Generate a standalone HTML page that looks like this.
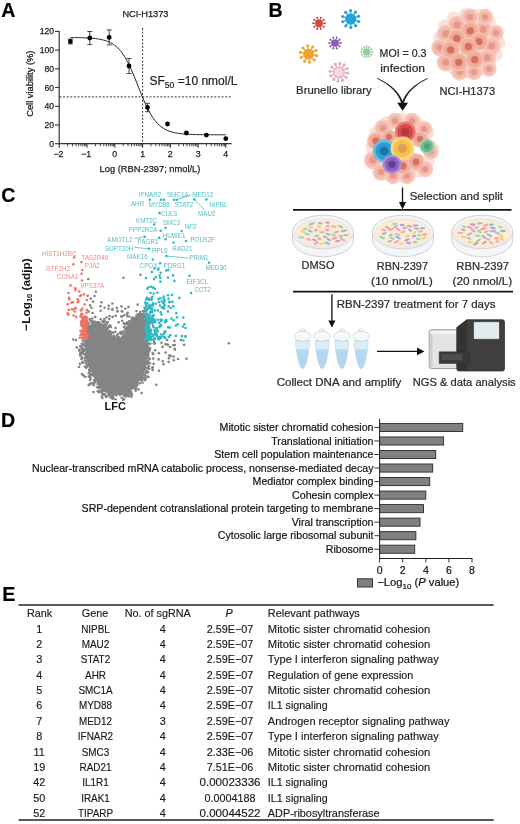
<!DOCTYPE html>
<html><head><meta charset="utf-8"><title>Figure</title>
<style>html,body{margin:0;padding:0;background:#fff;overflow:hidden;} svg{display:block;filter:blur(0.3px);} text{font-family:'Liberation Sans', Arial, sans-serif;}</style>
</head><body>
<svg width="520" height="824" viewBox="0 0 520 824">
<defs><filter id="soft" x="-10%" y="-10%" width="120%" height="120%"><feGaussianBlur stdDeviation="0.6"/></filter></defs>
<rect width="520" height="824" fill="#fff"/>
<text x="1.2" y="17.1" font-size="19.6" font-weight="bold" fill="#000" stroke="#000" stroke-width="0.2">A</text>
<text x="268.4" y="16.6" font-size="19.6" font-weight="bold" fill="#000" stroke="#000" stroke-width="0.2">B</text>
<text x="1.3" y="201.8" font-size="19.6" font-weight="bold" fill="#000" stroke="#000" stroke-width="0.2">C</text>
<text x="1.0" y="427.4" font-size="19.6" font-weight="bold" fill="#000" stroke="#000" stroke-width="0.2">D</text>
<text x="2.2" y="600.6" font-size="19.6" font-weight="bold" fill="#000" stroke="#000" stroke-width="0.2">E</text>
<g id="A" stroke-linecap="butt">
<line x1="59.2" y1="30.9" x2="59.2" y2="144.3" stroke="#333" stroke-width="1.2"/>
<line x1="58.6" y1="143.7" x2="231.5" y2="143.7" stroke="#333" stroke-width="1.2"/>
<line x1="55" y1="143.7" x2="59.2" y2="143.7" stroke="#333" stroke-width="1.1"/>
<text x="54" y="146.7" font-size="8.6" text-anchor="end" fill="#222" stroke="#222" stroke-width="0.25">0</text>
<line x1="55" y1="125.0" x2="59.2" y2="125.0" stroke="#333" stroke-width="1.1"/>
<text x="54" y="128.0" font-size="8.6" text-anchor="end" fill="#222" stroke="#222" stroke-width="0.25">20</text>
<line x1="55" y1="106.3" x2="59.2" y2="106.3" stroke="#333" stroke-width="1.1"/>
<text x="54" y="109.3" font-size="8.6" text-anchor="end" fill="#222" stroke="#222" stroke-width="0.25">40</text>
<line x1="55" y1="87.5" x2="59.2" y2="87.5" stroke="#333" stroke-width="1.1"/>
<text x="54" y="90.5" font-size="8.6" text-anchor="end" fill="#222" stroke="#222" stroke-width="0.25">60</text>
<line x1="55" y1="68.8" x2="59.2" y2="68.8" stroke="#333" stroke-width="1.1"/>
<text x="54" y="71.8" font-size="8.6" text-anchor="end" fill="#222" stroke="#222" stroke-width="0.25">80</text>
<line x1="55" y1="50.1" x2="59.2" y2="50.1" stroke="#333" stroke-width="1.1"/>
<text x="54" y="53.1" font-size="8.6" text-anchor="end" fill="#222" stroke="#222" stroke-width="0.25">100</text>
<line x1="55" y1="31.4" x2="59.2" y2="31.4" stroke="#333" stroke-width="1.1"/>
<text x="54" y="34.4" font-size="8.6" text-anchor="end" fill="#222" stroke="#222" stroke-width="0.25">120</text>
<line x1="59.3" y1="143.7" x2="59.3" y2="147.7" stroke="#333" stroke-width="1.1"/>
<text x="58.5" y="156.6" font-size="8.8" text-anchor="middle" fill="#222" stroke="#222" stroke-width="0.25">−2</text>
<line x1="67.7" y1="143.7" x2="67.7" y2="146.3" stroke="#333" stroke-width="0.9"/>
<line x1="72.5" y1="143.7" x2="72.5" y2="146.3" stroke="#333" stroke-width="0.9"/>
<line x1="76.0" y1="143.7" x2="76.0" y2="146.3" stroke="#333" stroke-width="0.9"/>
<line x1="78.7" y1="143.7" x2="78.7" y2="146.3" stroke="#333" stroke-width="0.9"/>
<line x1="80.9" y1="143.7" x2="80.9" y2="146.3" stroke="#333" stroke-width="0.9"/>
<line x1="82.8" y1="143.7" x2="82.8" y2="146.3" stroke="#333" stroke-width="0.9"/>
<line x1="84.4" y1="143.7" x2="84.4" y2="146.3" stroke="#333" stroke-width="0.9"/>
<line x1="85.8" y1="143.7" x2="85.8" y2="146.3" stroke="#333" stroke-width="0.9"/>
<line x1="87.0" y1="143.7" x2="87.0" y2="147.7" stroke="#333" stroke-width="1.1"/>
<text x="86.2" y="156.6" font-size="8.8" text-anchor="middle" fill="#222" stroke="#222" stroke-width="0.25">−1</text>
<line x1="95.4" y1="143.7" x2="95.4" y2="146.3" stroke="#333" stroke-width="0.9"/>
<line x1="100.3" y1="143.7" x2="100.3" y2="146.3" stroke="#333" stroke-width="0.9"/>
<line x1="103.8" y1="143.7" x2="103.8" y2="146.3" stroke="#333" stroke-width="0.9"/>
<line x1="106.4" y1="143.7" x2="106.4" y2="146.3" stroke="#333" stroke-width="0.9"/>
<line x1="108.6" y1="143.7" x2="108.6" y2="146.3" stroke="#333" stroke-width="0.9"/>
<line x1="110.5" y1="143.7" x2="110.5" y2="146.3" stroke="#333" stroke-width="0.9"/>
<line x1="112.1" y1="143.7" x2="112.1" y2="146.3" stroke="#333" stroke-width="0.9"/>
<line x1="113.5" y1="143.7" x2="113.5" y2="146.3" stroke="#333" stroke-width="0.9"/>
<line x1="114.8" y1="143.7" x2="114.8" y2="147.7" stroke="#333" stroke-width="1.1"/>
<text x="114.8" y="156.6" font-size="8.8" text-anchor="middle" fill="#222" stroke="#222" stroke-width="0.25">0</text>
<line x1="123.2" y1="143.7" x2="123.2" y2="146.3" stroke="#333" stroke-width="0.9"/>
<line x1="128.0" y1="143.7" x2="128.0" y2="146.3" stroke="#333" stroke-width="0.9"/>
<line x1="131.5" y1="143.7" x2="131.5" y2="146.3" stroke="#333" stroke-width="0.9"/>
<line x1="134.2" y1="143.7" x2="134.2" y2="146.3" stroke="#333" stroke-width="0.9"/>
<line x1="136.4" y1="143.7" x2="136.4" y2="146.3" stroke="#333" stroke-width="0.9"/>
<line x1="138.3" y1="143.7" x2="138.3" y2="146.3" stroke="#333" stroke-width="0.9"/>
<line x1="139.9" y1="143.7" x2="139.9" y2="146.3" stroke="#333" stroke-width="0.9"/>
<line x1="141.3" y1="143.7" x2="141.3" y2="146.3" stroke="#333" stroke-width="0.9"/>
<line x1="142.6" y1="143.7" x2="142.6" y2="147.7" stroke="#333" stroke-width="1.1"/>
<text x="142.6" y="156.6" font-size="8.8" text-anchor="middle" fill="#222" stroke="#222" stroke-width="0.25">1</text>
<line x1="150.9" y1="143.7" x2="150.9" y2="146.3" stroke="#333" stroke-width="0.9"/>
<line x1="155.8" y1="143.7" x2="155.8" y2="146.3" stroke="#333" stroke-width="0.9"/>
<line x1="159.3" y1="143.7" x2="159.3" y2="146.3" stroke="#333" stroke-width="0.9"/>
<line x1="161.9" y1="143.7" x2="161.9" y2="146.3" stroke="#333" stroke-width="0.9"/>
<line x1="164.1" y1="143.7" x2="164.1" y2="146.3" stroke="#333" stroke-width="0.9"/>
<line x1="166.0" y1="143.7" x2="166.0" y2="146.3" stroke="#333" stroke-width="0.9"/>
<line x1="167.6" y1="143.7" x2="167.6" y2="146.3" stroke="#333" stroke-width="0.9"/>
<line x1="169.0" y1="143.7" x2="169.0" y2="146.3" stroke="#333" stroke-width="0.9"/>
<line x1="170.3" y1="143.7" x2="170.3" y2="147.7" stroke="#333" stroke-width="1.1"/>
<text x="170.3" y="156.6" font-size="8.8" text-anchor="middle" fill="#222" stroke="#222" stroke-width="0.25">2</text>
<line x1="178.7" y1="143.7" x2="178.7" y2="146.3" stroke="#333" stroke-width="0.9"/>
<line x1="183.5" y1="143.7" x2="183.5" y2="146.3" stroke="#333" stroke-width="0.9"/>
<line x1="187.0" y1="143.7" x2="187.0" y2="146.3" stroke="#333" stroke-width="0.9"/>
<line x1="189.7" y1="143.7" x2="189.7" y2="146.3" stroke="#333" stroke-width="0.9"/>
<line x1="191.9" y1="143.7" x2="191.9" y2="146.3" stroke="#333" stroke-width="0.9"/>
<line x1="193.8" y1="143.7" x2="193.8" y2="146.3" stroke="#333" stroke-width="0.9"/>
<line x1="195.4" y1="143.7" x2="195.4" y2="146.3" stroke="#333" stroke-width="0.9"/>
<line x1="196.8" y1="143.7" x2="196.8" y2="146.3" stroke="#333" stroke-width="0.9"/>
<line x1="198.1" y1="143.7" x2="198.1" y2="147.7" stroke="#333" stroke-width="1.1"/>
<text x="198.1" y="156.6" font-size="8.8" text-anchor="middle" fill="#222" stroke="#222" stroke-width="0.25">3</text>
<line x1="206.4" y1="143.7" x2="206.4" y2="146.3" stroke="#333" stroke-width="0.9"/>
<line x1="211.3" y1="143.7" x2="211.3" y2="146.3" stroke="#333" stroke-width="0.9"/>
<line x1="214.8" y1="143.7" x2="214.8" y2="146.3" stroke="#333" stroke-width="0.9"/>
<line x1="217.4" y1="143.7" x2="217.4" y2="146.3" stroke="#333" stroke-width="0.9"/>
<line x1="219.6" y1="143.7" x2="219.6" y2="146.3" stroke="#333" stroke-width="0.9"/>
<line x1="221.5" y1="143.7" x2="221.5" y2="146.3" stroke="#333" stroke-width="0.9"/>
<line x1="223.1" y1="143.7" x2="223.1" y2="146.3" stroke="#333" stroke-width="0.9"/>
<line x1="224.5" y1="143.7" x2="224.5" y2="146.3" stroke="#333" stroke-width="0.9"/>
<line x1="225.8" y1="143.7" x2="225.8" y2="147.7" stroke="#333" stroke-width="1.1"/>
<text x="225.8" y="156.6" font-size="8.8" text-anchor="middle" fill="#222" stroke="#222" stroke-width="0.25">4</text>
<line x1="59.5" y1="96.9" x2="231.5" y2="96.9" stroke="#333" stroke-width="1" stroke-dasharray="2,1.6"/>
<line x1="142.6" y1="28" x2="142.6" y2="143.7" stroke="#333" stroke-width="1" stroke-dasharray="2,1.6"/>
<polyline points="70.40,37.55 71.79,37.56 73.17,37.58 74.56,37.59 75.95,37.61 77.34,37.64 78.72,37.66 80.11,37.69 81.50,37.73 82.89,37.77 84.28,37.82 85.66,37.88 87.05,37.94 88.44,38.01 89.83,38.10 91.21,38.19 92.60,38.31 93.99,38.44 95.38,38.59 96.76,38.76 98.15,38.96 99.54,39.19 100.93,39.45 102.31,39.75 103.70,40.10 105.09,40.49 106.48,40.95 107.86,41.47 109.25,42.06 110.64,42.74 112.03,43.50 113.41,44.38 114.80,45.37 116.19,46.48 117.58,47.74 118.96,49.14 120.35,50.71 121.74,52.46 123.13,54.38 124.51,56.50 125.90,58.81 127.29,61.32 128.68,64.02 130.06,66.90 131.45,69.95 132.84,73.16 134.23,76.48 135.61,79.91 137.00,83.39 138.39,86.91 139.78,90.42 141.16,93.88 142.55,97.27 143.94,100.54 145.33,103.68 146.71,106.66 148.10,109.46 149.49,112.08 150.88,114.50 152.26,116.73 153.65,118.76 155.04,120.60 156.43,122.27 157.81,123.77 159.20,125.11 160.59,126.30 161.98,127.36 163.36,128.29 164.75,129.12 166.14,129.84 167.53,130.48 168.91,131.04 170.30,131.53 171.69,131.96 173.08,132.33 174.46,132.66 175.85,132.94 177.24,133.19 178.62,133.41 180.01,133.59 181.40,133.75 182.79,133.89 184.18,134.02 185.56,134.12 186.95,134.21 188.34,134.29 189.72,134.36 191.11,134.42 192.50,134.47 193.89,134.52 195.27,134.56 196.66,134.59 198.05,134.62 199.44,134.65 200.82,134.67 202.21,134.69 203.60,134.70 204.99,134.72 206.37,134.73 207.76,134.74 209.15,134.75 210.54,134.76 211.92,134.76 213.31,134.77 214.70,134.77 216.09,134.78 217.47,134.78 218.86,134.79 220.25,134.79 221.64,134.79 223.02,134.79 224.41,134.80 225.80,134.80" fill="none" stroke="#222" stroke-width="1"/>
<line x1="70.4" y1="39.1" x2="70.4" y2="43.9" stroke="#333" stroke-width="0.9"/>
<line x1="67.9" y1="39.1" x2="72.9" y2="39.1" stroke="#333" stroke-width="0.9"/>
<line x1="67.9" y1="43.9" x2="72.9" y2="43.9" stroke="#333" stroke-width="0.9"/>
<circle cx="70.4" cy="41.5" r="2.4" fill="#000"/>
<line x1="89.8" y1="31.5" x2="89.8" y2="44.6" stroke="#333" stroke-width="0.9"/>
<line x1="87.3" y1="31.5" x2="92.3" y2="31.5" stroke="#333" stroke-width="0.9"/>
<line x1="87.3" y1="44.6" x2="92.3" y2="44.6" stroke="#333" stroke-width="0.9"/>
<circle cx="89.8" cy="38.0" r="2.4" fill="#000"/>
<line x1="109.2" y1="29.9" x2="109.2" y2="44.9" stroke="#333" stroke-width="0.9"/>
<line x1="106.8" y1="29.9" x2="111.8" y2="29.9" stroke="#333" stroke-width="0.9"/>
<line x1="106.8" y1="44.9" x2="111.8" y2="44.9" stroke="#333" stroke-width="0.9"/>
<circle cx="109.2" cy="37.4" r="2.4" fill="#000"/>
<line x1="129.0" y1="58.5" x2="129.0" y2="73.5" stroke="#333" stroke-width="0.9"/>
<line x1="126.5" y1="58.5" x2="131.5" y2="58.5" stroke="#333" stroke-width="0.9"/>
<line x1="126.5" y1="73.5" x2="131.5" y2="73.5" stroke="#333" stroke-width="0.9"/>
<circle cx="129.0" cy="66.0" r="2.4" fill="#000"/>
<line x1="147.5" y1="103.3" x2="147.5" y2="111.7" stroke="#333" stroke-width="0.9"/>
<line x1="145.0" y1="103.3" x2="150.0" y2="103.3" stroke="#333" stroke-width="0.9"/>
<line x1="145.0" y1="111.7" x2="150.0" y2="111.7" stroke="#333" stroke-width="0.9"/>
<circle cx="147.5" cy="107.5" r="2.4" fill="#000"/>
<circle cx="167.5" cy="124.0" r="2.4" fill="#000"/>
<circle cx="186.4" cy="133.0" r="2.4" fill="#000"/>
<circle cx="206.4" cy="135.1" r="2.4" fill="#000"/>
<circle cx="225.8" cy="138.7" r="2.4" fill="#000"/>
<text x="122.4" y="17.3" font-size="9.6" textLength="46" lengthAdjust="spacingAndGlyphs" fill="#222" stroke="#222" stroke-width="0.25">NCI-H1373</text>
<text x="150" y="171.5" font-size="9.3" text-anchor="middle" fill="#222" stroke="#222" stroke-width="0.25">Log (RBN-2397; nmol/L)</text>
<text transform="translate(33.2,83.7) rotate(-90)" font-size="9.3" text-anchor="middle" fill="#222" stroke="#222" stroke-width="0.3">Cell viability (%)</text>
<text x="149.5" y="84.6" font-size="12" fill="#222" stroke="#222" stroke-width="0.2">SF<tspan font-size="8.6" dy="3">50</tspan><tspan dy="-3"> =10 nmol/L</tspan></text>
</g>
<g id="B">
<line x1="322.94" y1="23.30" x2="324.85" y2="23.30" stroke="#cf4a4a" stroke-width="0.88"/><circle cx="324.85" cy="23.30" r="1.09" fill="#cf4a4a"/><line x1="322.19" y1="25.62" x2="323.73" y2="26.74" stroke="#cf4a4a" stroke-width="0.88"/><circle cx="323.73" cy="26.74" r="1.09" fill="#cf4a4a"/><line x1="320.22" y1="27.05" x2="320.81" y2="28.86" stroke="#cf4a4a" stroke-width="0.88"/><circle cx="320.81" cy="28.86" r="1.09" fill="#cf4a4a"/><line x1="317.78" y1="27.05" x2="317.19" y2="28.86" stroke="#cf4a4a" stroke-width="0.88"/><circle cx="317.19" cy="28.86" r="1.09" fill="#cf4a4a"/><line x1="315.81" y1="25.62" x2="314.27" y2="26.74" stroke="#cf4a4a" stroke-width="0.88"/><circle cx="314.27" cy="26.74" r="1.09" fill="#cf4a4a"/><line x1="315.06" y1="23.30" x2="313.15" y2="23.30" stroke="#cf4a4a" stroke-width="0.88"/><circle cx="313.15" cy="23.30" r="1.09" fill="#cf4a4a"/><line x1="315.81" y1="20.98" x2="314.27" y2="19.86" stroke="#cf4a4a" stroke-width="0.88"/><circle cx="314.27" cy="19.86" r="1.09" fill="#cf4a4a"/><line x1="317.78" y1="19.55" x2="317.19" y2="17.74" stroke="#cf4a4a" stroke-width="0.88"/><circle cx="317.19" cy="17.74" r="1.09" fill="#cf4a4a"/><line x1="320.22" y1="19.55" x2="320.81" y2="17.74" stroke="#cf4a4a" stroke-width="0.88"/><circle cx="320.81" cy="17.74" r="1.09" fill="#cf4a4a"/><line x1="322.19" y1="20.98" x2="323.73" y2="19.86" stroke="#cf4a4a" stroke-width="0.88"/><circle cx="323.73" cy="19.86" r="1.09" fill="#cf4a4a"/><circle cx="319" cy="23.3" r="3.94" fill="#cf4a4a"/>
<line x1="356.13" y1="20.68" x2="358.75" y2="21.49" stroke="#2aa1d3" stroke-width="1.27"/><circle cx="358.75" cy="21.49" r="1.57" fill="#2aa1d3"/><line x1="354.11" y1="23.55" x2="355.75" y2="25.75" stroke="#2aa1d3" stroke-width="1.27"/><circle cx="355.75" cy="25.75" r="1.57" fill="#2aa1d3"/><line x1="350.78" y1="24.68" x2="350.82" y2="27.43" stroke="#2aa1d3" stroke-width="1.27"/><circle cx="350.82" cy="27.43" r="1.57" fill="#2aa1d3"/><line x1="347.42" y1="23.65" x2="345.84" y2="25.89" stroke="#2aa1d3" stroke-width="1.27"/><circle cx="345.84" cy="25.89" r="1.57" fill="#2aa1d3"/><line x1="345.32" y1="20.83" x2="342.72" y2="21.72" stroke="#2aa1d3" stroke-width="1.27"/><circle cx="342.72" cy="21.72" r="1.57" fill="#2aa1d3"/><line x1="345.27" y1="17.32" x2="342.65" y2="16.51" stroke="#2aa1d3" stroke-width="1.27"/><circle cx="342.65" cy="16.51" r="1.57" fill="#2aa1d3"/><line x1="347.29" y1="14.45" x2="345.65" y2="12.25" stroke="#2aa1d3" stroke-width="1.27"/><circle cx="345.65" cy="12.25" r="1.57" fill="#2aa1d3"/><line x1="350.62" y1="13.32" x2="350.58" y2="10.57" stroke="#2aa1d3" stroke-width="1.27"/><circle cx="350.58" cy="10.57" r="1.57" fill="#2aa1d3"/><line x1="353.98" y1="14.35" x2="355.56" y2="12.11" stroke="#2aa1d3" stroke-width="1.27"/><circle cx="355.56" cy="12.11" r="1.57" fill="#2aa1d3"/><line x1="356.08" y1="17.17" x2="358.68" y2="16.28" stroke="#2aa1d3" stroke-width="1.27"/><circle cx="358.68" cy="16.28" r="1.57" fill="#2aa1d3"/><circle cx="350.7" cy="19" r="5.68" fill="#2aa1d3"/>
<line x1="338.83" y1="43.00" x2="340.68" y2="43.00" stroke="#8a5cb8" stroke-width="0.86"/><circle cx="340.68" cy="43.00" r="1.06" fill="#8a5cb8"/><line x1="338.10" y1="45.25" x2="339.59" y2="46.34" stroke="#8a5cb8" stroke-width="0.86"/><circle cx="339.59" cy="46.34" r="1.06" fill="#8a5cb8"/><line x1="336.18" y1="46.64" x2="336.75" y2="48.40" stroke="#8a5cb8" stroke-width="0.86"/><circle cx="336.75" cy="48.40" r="1.06" fill="#8a5cb8"/><line x1="333.82" y1="46.64" x2="333.25" y2="48.40" stroke="#8a5cb8" stroke-width="0.86"/><circle cx="333.25" cy="48.40" r="1.06" fill="#8a5cb8"/><line x1="331.90" y1="45.25" x2="330.41" y2="46.34" stroke="#8a5cb8" stroke-width="0.86"/><circle cx="330.41" cy="46.34" r="1.06" fill="#8a5cb8"/><line x1="331.17" y1="43.00" x2="329.32" y2="43.00" stroke="#8a5cb8" stroke-width="0.86"/><circle cx="329.32" cy="43.00" r="1.06" fill="#8a5cb8"/><line x1="331.90" y1="40.75" x2="330.41" y2="39.66" stroke="#8a5cb8" stroke-width="0.86"/><circle cx="330.41" cy="39.66" r="1.06" fill="#8a5cb8"/><line x1="333.82" y1="39.36" x2="333.25" y2="37.60" stroke="#8a5cb8" stroke-width="0.86"/><circle cx="333.25" cy="37.60" r="1.06" fill="#8a5cb8"/><line x1="336.18" y1="39.36" x2="336.75" y2="37.60" stroke="#8a5cb8" stroke-width="0.86"/><circle cx="336.75" cy="37.60" r="1.06" fill="#8a5cb8"/><line x1="338.10" y1="40.75" x2="339.59" y2="39.66" stroke="#8a5cb8" stroke-width="0.86"/><circle cx="339.59" cy="39.66" r="1.06" fill="#8a5cb8"/><circle cx="335" cy="43" r="3.83" fill="#8a5cb8"/>
<line x1="314.06" y1="55.11" x2="316.69" y2="55.64" stroke="#f0a22a" stroke-width="1.25"/><circle cx="316.69" cy="55.64" r="1.54" fill="#f0a22a"/><line x1="312.36" y1="58.10" x2="314.18" y2="60.08" stroke="#f0a22a" stroke-width="1.25"/><circle cx="314.18" cy="60.08" r="1.54" fill="#f0a22a"/><line x1="309.23" y1="59.53" x2="309.54" y2="62.20" stroke="#f0a22a" stroke-width="1.25"/><circle cx="309.54" cy="62.20" r="1.54" fill="#f0a22a"/><line x1="305.86" y1="58.85" x2="304.54" y2="61.19" stroke="#f0a22a" stroke-width="1.25"/><circle cx="304.54" cy="61.19" r="1.54" fill="#f0a22a"/><line x1="303.53" y1="56.31" x2="301.09" y2="57.43" stroke="#f0a22a" stroke-width="1.25"/><circle cx="301.09" cy="57.43" r="1.54" fill="#f0a22a"/><line x1="303.14" y1="52.89" x2="300.51" y2="52.36" stroke="#f0a22a" stroke-width="1.25"/><circle cx="300.51" cy="52.36" r="1.54" fill="#f0a22a"/><line x1="304.84" y1="49.90" x2="303.02" y2="47.92" stroke="#f0a22a" stroke-width="1.25"/><circle cx="303.02" cy="47.92" r="1.54" fill="#f0a22a"/><line x1="307.97" y1="48.47" x2="307.66" y2="45.80" stroke="#f0a22a" stroke-width="1.25"/><circle cx="307.66" cy="45.80" r="1.54" fill="#f0a22a"/><line x1="311.34" y1="49.15" x2="312.66" y2="46.81" stroke="#f0a22a" stroke-width="1.25"/><circle cx="312.66" cy="46.81" r="1.54" fill="#f0a22a"/><line x1="313.67" y1="51.69" x2="316.11" y2="50.57" stroke="#f0a22a" stroke-width="1.25"/><circle cx="316.11" cy="50.57" r="1.54" fill="#f0a22a"/><circle cx="308.6" cy="54" r="5.57" fill="#f0a22a"/>
<line x1="370.20" y1="51.80" x2="371.93" y2="51.80" stroke="#93cc98" stroke-width="0.81"/><circle cx="371.93" cy="51.80" r="0.99" fill="#93cc98"/><line x1="369.71" y1="53.60" x2="371.22" y2="54.47" stroke="#93cc98" stroke-width="0.81"/><circle cx="371.22" cy="54.47" r="0.99" fill="#93cc98"/><line x1="368.40" y1="54.91" x2="369.27" y2="56.42" stroke="#93cc98" stroke-width="0.81"/><circle cx="369.27" cy="56.42" r="0.99" fill="#93cc98"/><line x1="366.60" y1="55.40" x2="366.60" y2="57.13" stroke="#93cc98" stroke-width="0.81"/><circle cx="366.60" cy="57.13" r="0.99" fill="#93cc98"/><line x1="364.80" y1="54.91" x2="363.93" y2="56.42" stroke="#93cc98" stroke-width="0.81"/><circle cx="363.93" cy="56.42" r="0.99" fill="#93cc98"/><line x1="363.49" y1="53.60" x2="361.98" y2="54.47" stroke="#93cc98" stroke-width="0.81"/><circle cx="361.98" cy="54.47" r="0.99" fill="#93cc98"/><line x1="363.00" y1="51.80" x2="361.27" y2="51.80" stroke="#93cc98" stroke-width="0.81"/><circle cx="361.27" cy="51.80" r="0.99" fill="#93cc98"/><line x1="363.49" y1="50.00" x2="361.98" y2="49.13" stroke="#93cc98" stroke-width="0.81"/><circle cx="361.98" cy="49.13" r="0.99" fill="#93cc98"/><line x1="364.80" y1="48.69" x2="363.93" y2="47.18" stroke="#93cc98" stroke-width="0.81"/><circle cx="363.93" cy="47.18" r="0.99" fill="#93cc98"/><line x1="366.60" y1="48.20" x2="366.60" y2="46.47" stroke="#93cc98" stroke-width="0.81"/><circle cx="366.60" cy="46.47" r="0.99" fill="#93cc98"/><line x1="368.40" y1="48.69" x2="369.27" y2="47.18" stroke="#93cc98" stroke-width="0.81"/><circle cx="369.27" cy="47.18" r="0.99" fill="#93cc98"/><line x1="369.71" y1="50.00" x2="371.22" y2="49.13" stroke="#93cc98" stroke-width="0.81"/><circle cx="371.22" cy="49.13" r="0.99" fill="#93cc98"/><circle cx="366.6" cy="51.8" r="3.60" fill="#93cc98"/>
<line x1="344.84" y1="72.80" x2="347.71" y2="73.08" stroke="#dcb3c3" stroke-width="1.34"/><circle cx="347.71" cy="73.08" r="1.65" fill="#dcb3c3"/><line x1="343.75" y1="75.69" x2="346.09" y2="77.37" stroke="#dcb3c3" stroke-width="1.34"/><circle cx="346.09" cy="77.37" r="1.65" fill="#dcb3c3"/><line x1="341.36" y1="77.65" x2="342.54" y2="80.28" stroke="#dcb3c3" stroke-width="1.34"/><circle cx="342.54" cy="80.28" r="1.65" fill="#dcb3c3"/><line x1="338.30" y1="78.14" x2="338.02" y2="81.01" stroke="#dcb3c3" stroke-width="1.34"/><circle cx="338.02" cy="81.01" r="1.65" fill="#dcb3c3"/><line x1="335.41" y1="77.05" x2="333.73" y2="79.39" stroke="#dcb3c3" stroke-width="1.34"/><circle cx="333.73" cy="79.39" r="1.65" fill="#dcb3c3"/><line x1="333.45" y1="74.66" x2="330.82" y2="75.84" stroke="#dcb3c3" stroke-width="1.34"/><circle cx="330.82" cy="75.84" r="1.65" fill="#dcb3c3"/><line x1="332.96" y1="71.60" x2="330.09" y2="71.32" stroke="#dcb3c3" stroke-width="1.34"/><circle cx="330.09" cy="71.32" r="1.65" fill="#dcb3c3"/><line x1="334.05" y1="68.71" x2="331.71" y2="67.03" stroke="#dcb3c3" stroke-width="1.34"/><circle cx="331.71" cy="67.03" r="1.65" fill="#dcb3c3"/><line x1="336.44" y1="66.75" x2="335.26" y2="64.12" stroke="#dcb3c3" stroke-width="1.34"/><circle cx="335.26" cy="64.12" r="1.65" fill="#dcb3c3"/><line x1="339.50" y1="66.26" x2="339.78" y2="63.39" stroke="#dcb3c3" stroke-width="1.34"/><circle cx="339.78" cy="63.39" r="1.65" fill="#dcb3c3"/><line x1="342.39" y1="67.35" x2="344.07" y2="65.01" stroke="#dcb3c3" stroke-width="1.34"/><circle cx="344.07" cy="65.01" r="1.65" fill="#dcb3c3"/><line x1="344.35" y1="69.74" x2="346.98" y2="68.56" stroke="#dcb3c3" stroke-width="1.34"/><circle cx="346.98" cy="68.56" r="1.65" fill="#dcb3c3"/><circle cx="338.9" cy="72.2" r="5.97" fill="#dcb3c3"/>
<circle cx="338.9" cy="72.2" r="4.6" fill="#f6d6e1"/>
<g filter="url(#soft)"><circle cx="498.5" cy="43.0" r="7.0" fill="#fadad2" opacity="0.75"/><circle cx="495.9" cy="54.6" r="7.0" fill="#fadad2" opacity="0.75"/><circle cx="488.7" cy="64.2" r="7.0" fill="#fadad2" opacity="0.75"/><circle cx="478.1" cy="70.1" r="7.0" fill="#fadad2" opacity="0.75"/><circle cx="465.9" cy="71.3" r="7.0" fill="#fadad2" opacity="0.75"/><circle cx="454.2" cy="67.7" r="7.0" fill="#fadad2" opacity="0.75"/><circle cx="445.1" cy="59.8" r="7.0" fill="#fadad2" opacity="0.75"/><circle cx="440.1" cy="48.9" r="7.0" fill="#fadad2" opacity="0.75"/><circle cx="440.1" cy="37.1" r="7.0" fill="#fadad2" opacity="0.75"/><circle cx="445.1" cy="26.2" r="7.0" fill="#fadad2" opacity="0.75"/><circle cx="454.2" cy="18.3" r="7.0" fill="#fadad2" opacity="0.75"/><circle cx="465.9" cy="14.7" r="7.0" fill="#fadad2" opacity="0.75"/><circle cx="478.1" cy="15.9" r="7.0" fill="#fadad2" opacity="0.75"/><circle cx="488.7" cy="21.8" r="7.0" fill="#fadad2" opacity="0.75"/><circle cx="495.9" cy="31.4" r="7.0" fill="#fadad2" opacity="0.75"/><circle cx="470.3" cy="30.8" r="9.7" fill="#f6c9bf"/><circle cx="456.7" cy="38.4" r="9.7" fill="#f6c9bf"/><circle cx="479.0" cy="41.5" r="9.7" fill="#f6c9bf"/><circle cx="468.3" cy="46.7" r="9.7" fill="#f6c9bf"/><circle cx="450.6" cy="49.8" r="9.7" fill="#f6c9bf"/><circle cx="458.7" cy="62.3" r="9.7" fill="#f6c9bf"/><circle cx="474.8" cy="59.7" r="9.7" fill="#f6c9bf"/><circle cx="445.8" cy="33.7" r="9.2" fill="#f6c9bf"/><circle cx="483.0" cy="29.4" r="9.2" fill="#f6c9bf"/><circle cx="491.6" cy="45.9" r="9.2" fill="#f6c9bf"/><circle cx="487.0" cy="58.0" r="9.2" fill="#f6c9bf"/><circle cx="445.8" cy="62.3" r="9.2" fill="#f6c9bf"/><circle cx="457.0" cy="25.0" r="9.2" fill="#f6c9bf"/><circle cx="459.6" cy="71.8" r="8.7" fill="#f6c9bf"/><circle cx="439.7" cy="47.6" r="8.7" fill="#f6c9bf"/><circle cx="470.0" cy="17.0" r="8.7" fill="#f6c9bf"/><circle cx="485.0" cy="17.0" r="8.2" fill="#f6c9bf"/><circle cx="496.0" cy="33.0" r="7.7" fill="#f6c9bf"/><circle cx="474.0" cy="72.0" r="8.2" fill="#f6c9bf"/><circle cx="489.0" cy="69.0" r="7.7" fill="#f6c9bf"/><circle cx="445.8" cy="33.7" r="8.0" fill="#f4bcb0" stroke="#f8d2c9" stroke-width="0.9"/><circle cx="445.8" cy="33.7" r="5.0" fill="#f2b3a5"/><circle cx="445.8" cy="33.7" r="3.4" fill="#e59a89"/><circle cx="483.0" cy="29.4" r="8.0" fill="#f4bcb0" stroke="#f8d2c9" stroke-width="0.9"/><circle cx="483.0" cy="29.4" r="5.0" fill="#f2b3a5"/><circle cx="483.0" cy="29.4" r="3.4" fill="#e59a89"/><circle cx="491.6" cy="45.9" r="8.0" fill="#f4bcb0" stroke="#f8d2c9" stroke-width="0.9"/><circle cx="491.6" cy="45.9" r="5.0" fill="#f2b3a5"/><circle cx="491.6" cy="45.9" r="3.4" fill="#e59a89"/><circle cx="487.0" cy="58.0" r="8.0" fill="#f4bcb0" stroke="#f8d2c9" stroke-width="0.9"/><circle cx="487.0" cy="58.0" r="5.0" fill="#f2b3a5"/><circle cx="487.0" cy="58.0" r="3.4" fill="#e59a89"/><circle cx="445.8" cy="62.3" r="8.0" fill="#f4bcb0" stroke="#f8d2c9" stroke-width="0.9"/><circle cx="445.8" cy="62.3" r="5.0" fill="#f2b3a5"/><circle cx="445.8" cy="62.3" r="3.4" fill="#e59a89"/><circle cx="457.0" cy="25.0" r="8.0" fill="#f4bcb0" stroke="#f8d2c9" stroke-width="0.9"/><circle cx="457.0" cy="25.0" r="5.0" fill="#f2b3a5"/><circle cx="457.0" cy="25.0" r="3.4" fill="#e59a89"/><circle cx="459.6" cy="71.8" r="7.5" fill="#f4bcb0" stroke="#f8d2c9" stroke-width="0.9"/><circle cx="459.6" cy="71.8" r="4.7" fill="#f2b3a5"/><circle cx="459.6" cy="71.8" r="3.1" fill="#e59a89"/><circle cx="439.7" cy="47.6" r="7.5" fill="#f4bcb0" stroke="#f8d2c9" stroke-width="0.9"/><circle cx="439.7" cy="47.6" r="4.7" fill="#f2b3a5"/><circle cx="439.7" cy="47.6" r="3.1" fill="#e59a89"/><circle cx="470.0" cy="17.0" r="7.5" fill="#f4bcb0" stroke="#f8d2c9" stroke-width="0.9"/><circle cx="470.0" cy="17.0" r="4.7" fill="#f2b3a5"/><circle cx="470.0" cy="17.0" r="3.1" fill="#e59a89"/><circle cx="485.0" cy="17.0" r="7.0" fill="#f4bcb0" stroke="#f8d2c9" stroke-width="0.9"/><circle cx="485.0" cy="17.0" r="4.3" fill="#f2b3a5"/><circle cx="485.0" cy="17.0" r="2.9" fill="#e59a89"/><circle cx="496.0" cy="33.0" r="6.5" fill="#f4bcb0" stroke="#f8d2c9" stroke-width="0.9"/><circle cx="496.0" cy="33.0" r="4.0" fill="#f2b3a5"/><circle cx="496.0" cy="33.0" r="2.7" fill="#e59a89"/><circle cx="474.0" cy="72.0" r="7.0" fill="#f4bcb0" stroke="#f8d2c9" stroke-width="0.9"/><circle cx="474.0" cy="72.0" r="4.3" fill="#f2b3a5"/><circle cx="474.0" cy="72.0" r="2.9" fill="#e59a89"/><circle cx="489.0" cy="69.0" r="6.5" fill="#f4bcb0" stroke="#f8d2c9" stroke-width="0.9"/><circle cx="489.0" cy="69.0" r="4.0" fill="#f2b3a5"/><circle cx="489.0" cy="69.0" r="2.7" fill="#e59a89"/><circle cx="470.3" cy="30.8" r="8.5" fill="#f1ae9f" stroke="#f6c8bd" stroke-width="0.9"/><circle cx="470.3" cy="30.8" r="5.3" fill="#efa696"/><circle cx="470.3" cy="30.8" r="3.6" fill="#d5725f"/><circle cx="456.7" cy="38.4" r="8.5" fill="#f1ae9f" stroke="#f6c8bd" stroke-width="0.9"/><circle cx="456.7" cy="38.4" r="5.3" fill="#efa696"/><circle cx="456.7" cy="38.4" r="3.6" fill="#d5725f"/><circle cx="479.0" cy="41.5" r="8.5" fill="#f1ae9f" stroke="#f6c8bd" stroke-width="0.9"/><circle cx="479.0" cy="41.5" r="5.3" fill="#efa696"/><circle cx="479.0" cy="41.5" r="3.6" fill="#d5725f"/><circle cx="468.3" cy="46.7" r="8.5" fill="#f1ae9f" stroke="#f6c8bd" stroke-width="0.9"/><circle cx="468.3" cy="46.7" r="5.3" fill="#efa696"/><circle cx="468.3" cy="46.7" r="3.6" fill="#d5725f"/><circle cx="450.6" cy="49.8" r="8.5" fill="#f1ae9f" stroke="#f6c8bd" stroke-width="0.9"/><circle cx="450.6" cy="49.8" r="5.3" fill="#efa696"/><circle cx="450.6" cy="49.8" r="3.6" fill="#d5725f"/><circle cx="458.7" cy="62.3" r="8.5" fill="#f1ae9f" stroke="#f6c8bd" stroke-width="0.9"/><circle cx="458.7" cy="62.3" r="5.3" fill="#efa696"/><circle cx="458.7" cy="62.3" r="3.6" fill="#d5725f"/><circle cx="474.8" cy="59.7" r="8.5" fill="#f1ae9f" stroke="#f6c8bd" stroke-width="0.9"/><circle cx="474.8" cy="59.7" r="5.3" fill="#efa696"/><circle cx="474.8" cy="59.7" r="3.6" fill="#d5725f"/></g>
<g filter="url(#soft)"><circle cx="432.5" cy="147.0" r="6.3" fill="#fadad2" opacity="0.75"/><circle cx="428.4" cy="161.2" r="6.3" fill="#fadad2" opacity="0.75"/><circle cx="417.2" cy="171.7" r="6.3" fill="#fadad2" opacity="0.75"/><circle cx="402.0" cy="175.5" r="6.3" fill="#fadad2" opacity="0.75"/><circle cx="386.8" cy="171.7" r="6.3" fill="#fadad2" opacity="0.75"/><circle cx="375.6" cy="161.2" r="6.3" fill="#fadad2" opacity="0.75"/><circle cx="371.5" cy="147.0" r="6.3" fill="#fadad2" opacity="0.75"/><circle cx="375.6" cy="132.8" r="6.3" fill="#fadad2" opacity="0.75"/><circle cx="386.8" cy="122.3" r="6.3" fill="#fadad2" opacity="0.75"/><circle cx="402.0" cy="118.5" r="6.3" fill="#fadad2" opacity="0.75"/><circle cx="417.2" cy="122.3" r="6.3" fill="#fadad2" opacity="0.75"/><circle cx="428.4" cy="132.8" r="6.3" fill="#fadad2" opacity="0.75"/><circle cx="395.0" cy="121.0" r="8.2" fill="#f6c9bf"/><circle cx="412.0" cy="121.0" r="8.2" fill="#f6c9bf"/><circle cx="383.0" cy="128.0" r="8.7" fill="#f6c9bf"/><circle cx="424.0" cy="129.0" r="8.2" fill="#f6c9bf"/><circle cx="376.0" cy="141.0" r="9.2" fill="#f6c9bf"/><circle cx="420.0" cy="139.0" r="8.7" fill="#f6c9bf"/><circle cx="431.0" cy="152.0" r="7.7" fill="#f6c9bf"/><circle cx="373.0" cy="160.0" r="9.2" fill="#f6c9bf"/><circle cx="381.0" cy="172.0" r="8.7" fill="#f6c9bf"/><circle cx="403.0" cy="166.0" r="9.2" fill="#f6c9bf"/><circle cx="416.0" cy="162.0" r="9.2" fill="#f6c9bf"/><circle cx="425.0" cy="169.0" r="8.2" fill="#f6c9bf"/><circle cx="407.0" cy="176.0" r="8.2" fill="#f6c9bf"/><circle cx="393.0" cy="176.0" r="8.2" fill="#f6c9bf"/><circle cx="389.0" cy="137.0" r="8.2" fill="#f6c9bf"/><circle cx="395.0" cy="121.0" r="7.0" fill="#f4bcb0" stroke="#f8d2c9" stroke-width="0.9"/><circle cx="395.0" cy="121.0" r="4.3" fill="#f2b3a5"/><circle cx="395.0" cy="121.0" r="2.9" fill="#e59a89"/><circle cx="412.0" cy="121.0" r="7.0" fill="#f4bcb0" stroke="#f8d2c9" stroke-width="0.9"/><circle cx="412.0" cy="121.0" r="4.3" fill="#f2b3a5"/><circle cx="412.0" cy="121.0" r="2.9" fill="#e59a89"/><circle cx="383.0" cy="128.0" r="7.5" fill="#f4bcb0" stroke="#f8d2c9" stroke-width="0.9"/><circle cx="383.0" cy="128.0" r="4.7" fill="#f2b3a5"/><circle cx="383.0" cy="128.0" r="3.1" fill="#e59a89"/><circle cx="424.0" cy="129.0" r="7.0" fill="#f4bcb0" stroke="#f8d2c9" stroke-width="0.9"/><circle cx="424.0" cy="129.0" r="4.3" fill="#f2b3a5"/><circle cx="424.0" cy="129.0" r="2.9" fill="#e59a89"/><circle cx="431.0" cy="152.0" r="6.5" fill="#f4bcb0" stroke="#f8d2c9" stroke-width="0.9"/><circle cx="431.0" cy="152.0" r="4.0" fill="#f2b3a5"/><circle cx="431.0" cy="152.0" r="2.7" fill="#e59a89"/><circle cx="373.0" cy="160.0" r="8.0" fill="#f4bcb0" stroke="#f8d2c9" stroke-width="0.9"/><circle cx="373.0" cy="160.0" r="5.0" fill="#f2b3a5"/><circle cx="373.0" cy="160.0" r="3.4" fill="#e59a89"/><circle cx="381.0" cy="172.0" r="7.5" fill="#f4bcb0" stroke="#f8d2c9" stroke-width="0.9"/><circle cx="381.0" cy="172.0" r="4.7" fill="#f2b3a5"/><circle cx="381.0" cy="172.0" r="3.1" fill="#e59a89"/><circle cx="425.0" cy="169.0" r="7.0" fill="#f4bcb0" stroke="#f8d2c9" stroke-width="0.9"/><circle cx="425.0" cy="169.0" r="4.3" fill="#f2b3a5"/><circle cx="425.0" cy="169.0" r="2.9" fill="#e59a89"/><circle cx="407.0" cy="176.0" r="7.0" fill="#f4bcb0" stroke="#f8d2c9" stroke-width="0.9"/><circle cx="407.0" cy="176.0" r="4.3" fill="#f2b3a5"/><circle cx="407.0" cy="176.0" r="2.9" fill="#e59a89"/><circle cx="393.0" cy="176.0" r="7.0" fill="#f4bcb0" stroke="#f8d2c9" stroke-width="0.9"/><circle cx="393.0" cy="176.0" r="4.3" fill="#f2b3a5"/><circle cx="393.0" cy="176.0" r="2.9" fill="#e59a89"/><circle cx="376.0" cy="141.0" r="8.0" fill="#f1ae9f" stroke="#f6c8bd" stroke-width="0.9"/><circle cx="376.0" cy="141.0" r="5.0" fill="#efa696"/><circle cx="376.0" cy="141.0" r="3.4" fill="#d5725f"/><circle cx="420.0" cy="139.0" r="7.5" fill="#f1ae9f" stroke="#f6c8bd" stroke-width="0.9"/><circle cx="420.0" cy="139.0" r="4.7" fill="#efa696"/><circle cx="420.0" cy="139.0" r="3.1" fill="#d5725f"/><circle cx="403.0" cy="166.0" r="8.0" fill="#f1ae9f" stroke="#f6c8bd" stroke-width="0.9"/><circle cx="403.0" cy="166.0" r="5.0" fill="#efa696"/><circle cx="403.0" cy="166.0" r="3.4" fill="#d5725f"/><circle cx="416.0" cy="162.0" r="8.0" fill="#f1ae9f" stroke="#f6c8bd" stroke-width="0.9"/><circle cx="416.0" cy="162.0" r="5.0" fill="#efa696"/><circle cx="416.0" cy="162.0" r="3.4" fill="#d5725f"/><circle cx="389.0" cy="137.0" r="7.0" fill="#f1ae9f" stroke="#f6c8bd" stroke-width="0.9"/><circle cx="389.0" cy="137.0" r="4.3" fill="#efa696"/><circle cx="389.0" cy="137.0" r="2.9" fill="#d5725f"/><circle cx="405.3" cy="132.0" r="10.5" fill="#e57a78"/><circle cx="405.3" cy="132.0" r="8.0" fill="#d8474a"/><circle cx="405.3" cy="132.0" r="3.9" fill="#b13a3c"/><circle cx="427.0" cy="146.4" r="7.6" fill="#9fd3b1"/><circle cx="427.0" cy="146.4" r="5.8" fill="#6dbb8b"/><circle cx="427.0" cy="146.4" r="2.9" fill="#55a374"/><circle cx="384.2" cy="151.0" r="11.4" fill="#68bce0"/><circle cx="384.2" cy="151.0" r="8.7" fill="#2a9dd0"/><circle cx="384.2" cy="151.0" r="4.3" fill="#1c72a6"/><circle cx="402.4" cy="148.5" r="11.9" fill="#f8d67e"/><circle cx="402.4" cy="148.5" r="9.0" fill="#f4c24a"/><circle cx="402.4" cy="148.5" r="4.5" fill="#e39b5a"/><circle cx="392.0" cy="164.4" r="9.6" fill="#ad8fd6"/><circle cx="392.0" cy="164.4" r="7.3" fill="#8b61c2"/><circle cx="392.0" cy="164.4" r="3.6" fill="#5c4395"/></g>
<path d="M376.85,78.62 L378.22,79.29 L379.55,79.97 L380.84,80.67 L382.09,81.39 L383.30,82.11 L384.48,82.85 L385.62,83.60 L386.72,84.36 L387.79,85.14 L388.81,85.93 L389.80,86.73 L390.75,87.55 L391.67,88.38 L392.54,89.22 L393.38,90.07 L394.18,90.93 L394.94,91.81 L395.67,92.70 L396.35,93.60 L397.00,94.51 L397.62,95.43 L398.19,96.37 L398.73,97.32 L399.24,98.28 L399.70,99.25 L400.13,100.23 L400.53,101.23 L400.88,102.23 L401.20,103.25 L401.49,104.28 L403.51,103.72 L403.16,102.63 L402.77,101.56 L402.34,100.50 L401.88,99.46 L401.38,98.43 L400.84,97.43 L400.27,96.43 L399.66,95.46 L399.01,94.50 L398.33,93.56 L397.61,92.63 L396.85,91.72 L396.06,90.82 L395.24,89.94 L394.37,89.08 L393.47,88.23 L392.54,87.40 L391.57,86.59 L390.56,85.79 L389.52,85.00 L388.44,84.23 L387.33,83.48 L386.18,82.74 L385.00,82.02 L383.78,81.31 L382.52,80.61 L381.23,79.93 L379.91,79.27 L378.54,78.62 L377.15,77.98 Z" fill="#1e1e1e"/>
<path d="M427.85,77.98 L426.46,78.62 L425.09,79.27 L423.77,79.93 L422.48,80.61 L421.22,81.31 L420.00,82.02 L418.82,82.74 L417.67,83.48 L416.56,84.23 L415.48,85.00 L414.44,85.79 L413.43,86.59 L412.46,87.40 L411.53,88.23 L410.63,89.08 L409.76,89.94 L408.94,90.82 L408.15,91.72 L407.39,92.63 L406.67,93.56 L405.99,94.50 L405.34,95.46 L404.73,96.43 L404.16,97.43 L403.62,98.43 L403.12,99.46 L402.66,100.50 L402.23,101.56 L401.84,102.63 L401.49,103.72 L403.51,104.28 L403.80,103.25 L404.12,102.23 L404.47,101.23 L404.87,100.23 L405.30,99.25 L405.76,98.28 L406.27,97.32 L406.81,96.37 L407.38,95.43 L408.00,94.51 L408.65,93.60 L409.33,92.70 L410.06,91.81 L410.82,90.93 L411.62,90.07 L412.46,89.22 L413.33,88.38 L414.25,87.55 L415.20,86.73 L416.19,85.93 L417.21,85.14 L418.28,84.36 L419.38,83.60 L420.52,82.85 L421.70,82.11 L422.91,81.39 L424.16,80.67 L425.45,79.97 L426.78,79.29 L428.15,78.62 Z" fill="#1e1e1e"/>
<path d="M397.2,102.8 L408,102.8 L402.6,110.8 Z" fill="#111"/>
<text x="379.6" y="56.8" font-size="10.6" textLength="46.8" lengthAdjust="spacingAndGlyphs" fill="#2b2b2b" stroke="#2b2b2b" stroke-width="0.22" >MOI = 0.3</text>
<text x="380.3" y="71.6" font-size="10.6" textLength="44.7" lengthAdjust="spacingAndGlyphs" fill="#2b2b2b" stroke="#2b2b2b" stroke-width="0.22" >infection</text>
<text x="296.1" y="94.4" font-size="10.8" textLength="75.7" lengthAdjust="spacingAndGlyphs" fill="#2b2b2b" stroke="#2b2b2b" stroke-width="0.22" >Brunello library</text>
<text x="439.5" y="94.5" font-size="10.8" textLength="55.6" lengthAdjust="spacingAndGlyphs" fill="#2b2b2b" stroke="#2b2b2b" stroke-width="0.22" >NCI-H1373</text>
<line x1="402.5" y1="187.5" x2="402.5" y2="203.1" stroke="#111" stroke-width="1.3"/><path d="M399.0,202.1 L406.0,202.1 L402.5,209.6 Z" fill="#111"/>
<text x="409.7" y="200.2" font-size="11.4" textLength="93.3" lengthAdjust="spacingAndGlyphs" fill="#2b2b2b" stroke="#2b2b2b" stroke-width="0.22" >Selection and split</text>
<line x1="293" y1="209.8" x2="511.5" y2="209.8" stroke="#111" stroke-width="1.8"/>
<path d="M292.5,232 L292.5,240 A30.5,16.8 0 0 0 353.5,240 L353.5,232 Z" fill="#f4f5f7" stroke="#c9ced5" stroke-width="0.9"/><ellipse cx="323" cy="232" rx="30.5" ry="16.8" fill="#f3f4f6" stroke="#c9ced5" stroke-width="0.9"/><ellipse cx="323" cy="233.2" rx="27.9" ry="14.0" fill="#fbecd9" stroke="#dfd6cc" stroke-width="0.5"/><ellipse cx="334.4" cy="238.3" rx="3.0" ry="1.15" fill="#ec8f8f" opacity="0.8" transform="rotate(-6 334.4 238.3)"/><ellipse cx="305.2" cy="228.9" rx="2.3" ry="1.15" fill="#86c98e" opacity="0.8" transform="rotate(3 305.2 228.9)"/><ellipse cx="325.1" cy="236.9" rx="2.4" ry="1.15" fill="#6fb0dc" opacity="0.8" transform="rotate(16 325.1 236.9)"/><ellipse cx="314.3" cy="240.0" rx="2.6" ry="1.15" fill="#ad8ad0" opacity="0.8" transform="rotate(25 314.3 240.0)"/><ellipse cx="319.0" cy="226.5" rx="2.4" ry="1.15" fill="#f0c868" opacity="0.8" transform="rotate(18 319.0 226.5)"/><ellipse cx="306.9" cy="234.0" rx="3.1" ry="1.15" fill="#7fcfc6" opacity="0.8" transform="rotate(20 306.9 234.0)"/><ellipse cx="327.7" cy="226.2" rx="2.3" ry="1.15" fill="#e79ab8" opacity="0.8" transform="rotate(-12 327.7 226.2)"/><ellipse cx="311.8" cy="223.8" rx="3.2" ry="1.15" fill="#9aa8e6" opacity="0.8" transform="rotate(-17 311.8 223.8)"/><ellipse cx="336.6" cy="232.2" rx="3.0" ry="1.15" fill="#f2a07a" opacity="0.8" transform="rotate(-15 336.6 232.2)"/><ellipse cx="316.1" cy="230.1" rx="2.3" ry="1.15" fill="#ec8f8f" opacity="0.8" transform="rotate(-23 316.1 230.1)"/><ellipse cx="340.5" cy="226.6" rx="3.1" ry="1.15" fill="#86c98e" opacity="0.8" transform="rotate(28 340.5 226.6)"/><ellipse cx="343.9" cy="230.9" rx="3.2" ry="1.15" fill="#6fb0dc" opacity="0.8" transform="rotate(-10 343.9 230.9)"/><ellipse cx="328.6" cy="239.6" rx="2.4" ry="1.15" fill="#ad8ad0" opacity="0.8" transform="rotate(28 328.6 239.6)"/><ellipse cx="310.7" cy="227.4" rx="2.8" ry="1.15" fill="#f0c868" opacity="0.8" transform="rotate(4 310.7 227.4)"/><ellipse cx="316.4" cy="235.8" rx="3.1" ry="1.15" fill="#7fcfc6" opacity="0.8" transform="rotate(-5 316.4 235.8)"/><ellipse cx="308.6" cy="239.4" rx="2.7" ry="1.15" fill="#e79ab8" opacity="0.8" transform="rotate(12 308.6 239.4)"/><ellipse cx="328.0" cy="234.2" rx="2.6" ry="1.15" fill="#9aa8e6" opacity="0.8" transform="rotate(19 328.0 234.2)"/><ellipse cx="333.9" cy="226.6" rx="3.0" ry="1.15" fill="#f2a07a" opacity="0.8" transform="rotate(8 333.9 226.6)"/><ellipse cx="327.1" cy="230.0" rx="2.4" ry="1.15" fill="#ec8f8f" opacity="0.8" transform="rotate(8 327.1 230.0)"/><ellipse cx="340.7" cy="236.0" rx="2.4" ry="1.15" fill="#86c98e" opacity="0.8" transform="rotate(9 340.7 236.0)"/><ellipse cx="327.3" cy="243.2" rx="2.9" ry="1.15" fill="#6fb0dc" opacity="0.8" transform="rotate(21 327.3 243.2)"/><ellipse cx="337.9" cy="241.1" rx="2.7" ry="1.15" fill="#ad8ad0" opacity="0.8" transform="rotate(-6 337.9 241.1)"/><ellipse cx="302.9" cy="231.6" rx="2.8" ry="1.15" fill="#f0c868" opacity="0.8" transform="rotate(28 302.9 231.6)"/><ellipse cx="301.5" cy="237.3" rx="2.9" ry="1.15" fill="#7fcfc6" opacity="0.8" transform="rotate(8 301.5 237.3)"/><ellipse cx="316.2" cy="243.0" rx="2.8" ry="1.15" fill="#e79ab8" opacity="0.8" transform="rotate(-33 316.2 243.0)"/><ellipse cx="320.4" cy="223.3" rx="2.6" ry="1.15" fill="#9aa8e6" opacity="0.8" transform="rotate(7 320.4 223.3)"/><ellipse cx="321.9" cy="232.1" rx="3.0" ry="1.15" fill="#f2a07a" opacity="0.8" transform="rotate(1 321.9 232.1)"/><ellipse cx="319.4" cy="238.8" rx="2.3" ry="1.15" fill="#ec8f8f" opacity="0.8" transform="rotate(12 319.4 238.8)"/><ellipse cx="346.0" cy="235.2" rx="2.7" ry="1.15" fill="#86c98e" opacity="0.8" transform="rotate(-2 346.0 235.2)"/><ellipse cx="310.3" cy="231.1" rx="2.7" ry="1.15" fill="#6fb0dc" opacity="0.8" transform="rotate(18 310.3 231.1)"/><ellipse cx="327.6" cy="222.6" rx="2.3" ry="1.15" fill="#ad8ad0" opacity="0.8" transform="rotate(1 327.6 222.6)"/><ellipse cx="321.8" cy="243.8" rx="2.7" ry="1.15" fill="#f0c868" opacity="0.8" transform="rotate(1 321.8 243.8)"/><ellipse cx="333.4" cy="235.0" rx="2.9" ry="1.15" fill="#7fcfc6" opacity="0.8" transform="rotate(22 333.4 235.0)"/><ellipse cx="342.3" cy="239.2" rx="3.3" ry="1.15" fill="#e79ab8" opacity="0.8" transform="rotate(31 342.3 239.2)"/>
<path d="M372.5,232 L372.5,240 A30.5,16.8 0 0 0 433.5,240 L433.5,232 Z" fill="#f4f5f7" stroke="#c9ced5" stroke-width="0.9"/><ellipse cx="403" cy="232" rx="30.5" ry="16.8" fill="#f3f4f6" stroke="#c9ced5" stroke-width="0.9"/><ellipse cx="403" cy="233.2" rx="27.9" ry="14.0" fill="#fbecd9" stroke="#dfd6cc" stroke-width="0.5"/><ellipse cx="390.7" cy="229.6" rx="2.7" ry="1.15" fill="#ec8f8f" opacity="0.8" transform="rotate(-9 390.7 229.6)"/><ellipse cx="415.0" cy="242.1" rx="2.3" ry="1.15" fill="#86c98e" opacity="0.8" transform="rotate(9 415.0 242.1)"/><ellipse cx="398.0" cy="237.6" rx="3.2" ry="1.15" fill="#6fb0dc" opacity="0.8" transform="rotate(29 398.0 237.6)"/><ellipse cx="407.1" cy="239.9" rx="2.9" ry="1.15" fill="#ad8ad0" opacity="0.8" transform="rotate(-21 407.1 239.9)"/><ellipse cx="414.5" cy="232.4" rx="2.5" ry="1.15" fill="#f0c868" opacity="0.8" transform="rotate(-31 414.5 232.4)"/><ellipse cx="418.3" cy="239.1" rx="2.3" ry="1.15" fill="#7fcfc6" opacity="0.8" transform="rotate(10 418.3 239.1)"/><ellipse cx="396.4" cy="241.7" rx="3.0" ry="1.15" fill="#e79ab8" opacity="0.8" transform="rotate(-24 396.4 241.7)"/><ellipse cx="384.3" cy="233.4" rx="2.7" ry="1.15" fill="#9aa8e6" opacity="0.8" transform="rotate(-21 384.3 233.4)"/><ellipse cx="420.5" cy="231.3" rx="2.9" ry="1.15" fill="#f2a07a" opacity="0.8" transform="rotate(-0 420.5 231.3)"/><ellipse cx="424.8" cy="234.5" rx="2.5" ry="1.15" fill="#ec8f8f" opacity="0.8" transform="rotate(-9 424.8 234.5)"/><ellipse cx="382.2" cy="237.6" rx="3.0" ry="1.15" fill="#86c98e" opacity="0.8" transform="rotate(20 382.2 237.6)"/><ellipse cx="410.1" cy="230.2" rx="2.3" ry="1.15" fill="#6fb0dc" opacity="0.8" transform="rotate(30 410.1 230.2)"/><ellipse cx="402.0" cy="225.0" rx="2.4" ry="1.15" fill="#ad8ad0" opacity="0.8" transform="rotate(4 402.0 225.0)"/><ellipse cx="407.8" cy="235.9" rx="2.5" ry="1.15" fill="#f0c868" opacity="0.8" transform="rotate(-9 407.8 235.9)"/><ellipse cx="392.0" cy="238.1" rx="3.0" ry="1.15" fill="#7fcfc6" opacity="0.8" transform="rotate(24 392.0 238.1)"/><ellipse cx="397.5" cy="234.5" rx="3.2" ry="1.15" fill="#e79ab8" opacity="0.8" transform="rotate(17 397.5 234.5)"/><ellipse cx="416.6" cy="228.6" rx="2.9" ry="1.15" fill="#9aa8e6" opacity="0.8" transform="rotate(10 416.6 228.6)"/><ellipse cx="403.1" cy="231.9" rx="2.6" ry="1.15" fill="#f2a07a" opacity="0.8" transform="rotate(-18 403.1 231.9)"/><ellipse cx="409.8" cy="226.2" rx="2.8" ry="1.15" fill="#ec8f8f" opacity="0.8" transform="rotate(16 409.8 226.2)"/><ellipse cx="389.6" cy="241.3" rx="2.7" ry="1.15" fill="#86c98e" opacity="0.8" transform="rotate(-12 389.6 241.3)"/><ellipse cx="422.5" cy="228.1" rx="2.7" ry="1.15" fill="#6fb0dc" opacity="0.8" transform="rotate(-4 422.5 228.1)"/><ellipse cx="414.0" cy="236.2" rx="2.3" ry="1.15" fill="#ad8ad0" opacity="0.8" transform="rotate(-19 414.0 236.2)"/><ellipse cx="401.1" cy="243.5" rx="2.5" ry="1.15" fill="#f0c868" opacity="0.8" transform="rotate(16 401.1 243.5)"/><ellipse cx="394.7" cy="223.8" rx="2.7" ry="1.15" fill="#7fcfc6" opacity="0.8" transform="rotate(-2 394.7 223.8)"/><ellipse cx="398.3" cy="229.4" rx="3.0" ry="1.15" fill="#e79ab8" opacity="0.8" transform="rotate(28 398.3 229.4)"/><ellipse cx="405.0" cy="227.8" rx="2.9" ry="1.15" fill="#9aa8e6" opacity="0.8" transform="rotate(-13 405.0 227.8)"/><ellipse cx="383.6" cy="229.9" rx="2.8" ry="1.15" fill="#f2a07a" opacity="0.8" transform="rotate(19 383.6 229.9)"/><ellipse cx="387.2" cy="227.3" rx="2.6" ry="1.15" fill="#ec8f8f" opacity="0.8" transform="rotate(25 387.2 227.3)"/><ellipse cx="390.8" cy="235.0" rx="2.3" ry="1.15" fill="#86c98e" opacity="0.8" transform="rotate(-29 390.8 235.0)"/><ellipse cx="415.6" cy="225.4" rx="3.0" ry="1.15" fill="#6fb0dc" opacity="0.8" transform="rotate(-1 415.6 225.4)"/><ellipse cx="408.6" cy="243.0" rx="2.5" ry="1.15" fill="#ad8ad0" opacity="0.8" transform="rotate(5 408.6 243.0)"/><ellipse cx="423.8" cy="237.9" rx="2.7" ry="1.15" fill="#f0c868" opacity="0.8" transform="rotate(-27 423.8 237.9)"/><ellipse cx="419.3" cy="235.4" rx="2.4" ry="1.15" fill="#7fcfc6" opacity="0.8" transform="rotate(1 419.3 235.4)"/><ellipse cx="395.3" cy="226.9" rx="3.2" ry="1.15" fill="#e79ab8" opacity="0.8" transform="rotate(-26 395.3 226.9)"/>
<path d="M451.8,232 L451.8,240 A30.5,16.8 0 0 0 512.8,240 L512.8,232 Z" fill="#f4f5f7" stroke="#c9ced5" stroke-width="0.9"/><ellipse cx="482.3" cy="232" rx="30.5" ry="16.8" fill="#f3f4f6" stroke="#c9ced5" stroke-width="0.9"/><ellipse cx="482.3" cy="233.2" rx="27.9" ry="14.0" fill="#fbecd9" stroke="#dfd6cc" stroke-width="0.5"/><ellipse cx="483.3" cy="228.7" rx="3.3" ry="1.15" fill="#ec8f8f" opacity="0.8" transform="rotate(-15 483.3 228.7)"/><ellipse cx="478.3" cy="240.4" rx="2.9" ry="1.15" fill="#86c98e" opacity="0.8" transform="rotate(-27 478.3 240.4)"/><ellipse cx="483.9" cy="236.9" rx="3.0" ry="1.15" fill="#6fb0dc" opacity="0.8" transform="rotate(34 483.9 236.9)"/><ellipse cx="484.4" cy="242.6" rx="2.7" ry="1.15" fill="#ad8ad0" opacity="0.8" transform="rotate(-33 484.4 242.6)"/><ellipse cx="470.1" cy="242.1" rx="2.6" ry="1.15" fill="#f0c868" opacity="0.8" transform="rotate(8 470.1 242.1)"/><ellipse cx="468.9" cy="238.2" rx="2.6" ry="1.15" fill="#7fcfc6" opacity="0.8" transform="rotate(23 468.9 238.2)"/><ellipse cx="460.2" cy="232.8" rx="3.1" ry="1.15" fill="#e79ab8" opacity="0.8" transform="rotate(2 460.2 232.8)"/><ellipse cx="473.1" cy="230.6" rx="2.6" ry="1.15" fill="#9aa8e6" opacity="0.8" transform="rotate(24 473.1 230.6)"/><ellipse cx="486.4" cy="231.7" rx="2.8" ry="1.15" fill="#f2a07a" opacity="0.8" transform="rotate(-19 486.4 231.7)"/><ellipse cx="496.4" cy="238.5" rx="2.4" ry="1.15" fill="#ec8f8f" opacity="0.8" transform="rotate(1 496.4 238.5)"/><ellipse cx="497.4" cy="233.0" rx="3.0" ry="1.15" fill="#86c98e" opacity="0.8" transform="rotate(20 497.4 233.0)"/><ellipse cx="491.4" cy="224.6" rx="2.4" ry="1.15" fill="#6fb0dc" opacity="0.8" transform="rotate(-3 491.4 224.6)"/><ellipse cx="492.9" cy="228.0" rx="3.0" ry="1.15" fill="#ad8ad0" opacity="0.8" transform="rotate(11 492.9 228.0)"/><ellipse cx="501.2" cy="235.9" rx="2.4" ry="1.15" fill="#f0c868" opacity="0.8" transform="rotate(21 501.2 235.9)"/><ellipse cx="477.5" cy="235.7" rx="3.1" ry="1.15" fill="#7fcfc6" opacity="0.8" transform="rotate(8 477.5 235.7)"/><ellipse cx="488.1" cy="239.2" rx="2.3" ry="1.15" fill="#e79ab8" opacity="0.8" transform="rotate(13 488.1 239.2)"/><ellipse cx="463.2" cy="229.9" rx="2.5" ry="1.15" fill="#9aa8e6" opacity="0.8" transform="rotate(15 463.2 229.9)"/><ellipse cx="491.2" cy="242.7" rx="2.6" ry="1.15" fill="#f2a07a" opacity="0.8" transform="rotate(24 491.2 242.7)"/><ellipse cx="469.6" cy="234.0" rx="3.2" ry="1.15" fill="#ec8f8f" opacity="0.8" transform="rotate(-21 469.6 234.0)"/><ellipse cx="479.7" cy="223.3" rx="3.1" ry="1.15" fill="#86c98e" opacity="0.8" transform="rotate(-4 479.7 223.3)"/><ellipse cx="502.9" cy="231.0" rx="3.1" ry="1.15" fill="#6fb0dc" opacity="0.8" transform="rotate(-4 502.9 231.0)"/><ellipse cx="472.6" cy="224.5" rx="3.1" ry="1.15" fill="#ad8ad0" opacity="0.8" transform="rotate(7 472.6 224.5)"/><ellipse cx="463.7" cy="236.8" rx="2.7" ry="1.15" fill="#f0c868" opacity="0.8" transform="rotate(10 463.7 236.8)"/><ellipse cx="500.4" cy="227.1" rx="2.5" ry="1.15" fill="#7fcfc6" opacity="0.8" transform="rotate(28 500.4 227.1)"/><ellipse cx="476.6" cy="227.6" rx="2.7" ry="1.15" fill="#e79ab8" opacity="0.8" transform="rotate(-28 476.6 227.6)"/><ellipse cx="492.9" cy="231.1" rx="3.2" ry="1.15" fill="#9aa8e6" opacity="0.8" transform="rotate(2 492.9 231.1)"/><ellipse cx="485.6" cy="225.1" rx="3.2" ry="1.15" fill="#f2a07a" opacity="0.8" transform="rotate(-16 485.6 225.1)"/><ellipse cx="469.7" cy="227.3" rx="3.2" ry="1.15" fill="#ec8f8f" opacity="0.8" transform="rotate(17 469.7 227.3)"/><ellipse cx="479.5" cy="231.4" rx="2.7" ry="1.15" fill="#86c98e" opacity="0.8" transform="rotate(29 479.5 231.4)"/><ellipse cx="489.5" cy="235.3" rx="3.1" ry="1.15" fill="#6fb0dc" opacity="0.8" transform="rotate(24 489.5 235.3)"/><ellipse cx="475.9" cy="243.6" rx="3.0" ry="1.15" fill="#ad8ad0" opacity="0.8" transform="rotate(-23 475.9 243.6)"/><ellipse cx="501.8" cy="239.1" rx="2.6" ry="1.15" fill="#f0c868" opacity="0.8" transform="rotate(32 501.8 239.1)"/><ellipse cx="464.2" cy="226.7" rx="2.4" ry="1.15" fill="#7fcfc6" opacity="0.8" transform="rotate(21 464.2 226.7)"/><ellipse cx="497.3" cy="241.5" rx="2.3" ry="1.15" fill="#e79ab8" opacity="0.8" transform="rotate(-11 497.3 241.5)"/>
<text x="301.5" y="269.4" font-size="11" textLength="33.0" lengthAdjust="spacingAndGlyphs" fill="#2b2b2b" stroke="#2b2b2b" stroke-width="0.22" >DMSO</text>
<text x="376.8" y="270.4" font-size="11" textLength="51.2" lengthAdjust="spacingAndGlyphs" fill="#2b2b2b" stroke="#2b2b2b" stroke-width="0.22" >RBN-2397</text>
<text x="370.9" y="285.2" font-size="11" textLength="61.9" lengthAdjust="spacingAndGlyphs" fill="#2b2b2b" stroke="#2b2b2b" stroke-width="0.22" >(10 nmol/L)</text>
<text x="456.3" y="270.4" font-size="11" textLength="52.7" lengthAdjust="spacingAndGlyphs" fill="#2b2b2b" stroke="#2b2b2b" stroke-width="0.22" >RBN-2397</text>
<text x="452.5" y="285.2" font-size="11" textLength="59.7" lengthAdjust="spacingAndGlyphs" fill="#2b2b2b" stroke="#2b2b2b" stroke-width="0.22" >(20 nmol/L)</text>
<line x1="293" y1="291.6" x2="513" y2="291.6" stroke="#111" stroke-width="1.8"/>
<line x1="331.9" y1="294.2" x2="331.9" y2="321.5" stroke="#111" stroke-width="1.3"/><path d="M328.29999999999995,320.5 L335.5,320.5 L331.9,327.5 Z" fill="#111"/>
<text x="336.7" y="307.6" font-size="11.5" textLength="158.8" lengthAdjust="spacingAndGlyphs" fill="#2b2b2b" stroke="#2b2b2b" stroke-width="0.22" >RBN-2397 treatment for 7 days</text>
<path d="M295.6,340.5 C296.0,352 299.20000000000005,368.8 302.6,368.8 C306.0,368.8 309.20000000000005,352 309.6,340.5 Z" fill="#b2d8f1" stroke="#c3ced6" stroke-width="0.6"/><path d="M295.8,341 L309.40000000000003,341 L308.8,349.5 L296.40000000000003,349.5 Z" fill="#d9ecf8"/><ellipse cx="302.6" cy="330.2" rx="2.8" ry="1.6" fill="#f5f6f7" stroke="#c5ccd1" stroke-width="0.5"/><ellipse cx="302.6" cy="336.2" rx="8.2" ry="5" fill="#f7f8f9" stroke="#c2c9cf" stroke-width="0.6"/>
<path d="M315.2,340.5 C315.59999999999997,352 318.8,368.8 322.2,368.8 C325.59999999999997,368.8 328.8,352 329.2,340.5 Z" fill="#b2d8f1" stroke="#c3ced6" stroke-width="0.6"/><path d="M315.4,341 L329.0,341 L328.4,349.5 L316.0,349.5 Z" fill="#d9ecf8"/><ellipse cx="322.2" cy="330.2" rx="2.8" ry="1.6" fill="#f5f6f7" stroke="#c5ccd1" stroke-width="0.5"/><ellipse cx="322.2" cy="336.2" rx="8.2" ry="5" fill="#f7f8f9" stroke="#c2c9cf" stroke-width="0.6"/>
<path d="M334.8,340.5 C335.2,352 338.40000000000003,368.8 341.8,368.8 C345.2,368.8 348.40000000000003,352 348.8,340.5 Z" fill="#b2d8f1" stroke="#c3ced6" stroke-width="0.6"/><path d="M335.0,341 L348.6,341 L348.0,349.5 L335.6,349.5 Z" fill="#d9ecf8"/><ellipse cx="341.8" cy="330.2" rx="2.8" ry="1.6" fill="#f5f6f7" stroke="#c5ccd1" stroke-width="0.5"/><ellipse cx="341.8" cy="336.2" rx="8.2" ry="5" fill="#f7f8f9" stroke="#c2c9cf" stroke-width="0.6"/>
<path d="M354.2,340.5 C354.59999999999997,352 357.8,368.8 361.2,368.8 C364.59999999999997,368.8 367.8,352 368.2,340.5 Z" fill="#b2d8f1" stroke="#c3ced6" stroke-width="0.6"/><path d="M354.4,341 L368.0,341 L367.4,349.5 L355.0,349.5 Z" fill="#d9ecf8"/><ellipse cx="361.2" cy="330.2" rx="2.8" ry="1.6" fill="#f5f6f7" stroke="#c5ccd1" stroke-width="0.5"/><ellipse cx="361.2" cy="336.2" rx="8.2" ry="5" fill="#f7f8f9" stroke="#c2c9cf" stroke-width="0.6"/>
<line x1="377" y1="351.4" x2="418" y2="351.4" stroke="#111" stroke-width="1.3"/>
<path d="M417,347.6 L424.5,351.4 L417,355.2 Z" fill="#111"/>
<path d="M431.5,329.7 L468,329.7 L468,368.6 L431.5,368.6 Q429.2,368.6 429.2,366.3 L429.2,332 Q429.2,329.7 431.5,329.7 Z" fill="#e3e3e3" stroke="#7a7a7a" stroke-width="0.7"/>
<path d="M430,331 L467,331 L467,334.5 L430,334.5 Z" fill="#f2f2f2"/>
<path d="M429.8,334 L432.6,334 L432.6,368 L429.8,368 Z" fill="#cfcfcf"/>
<path d="M466.8,319.7 L502.3,319.7 Q504.5,319.7 504.5,321.9 L504.5,368.8 Q504.5,371 502.3,371 L459,371 Q456.8,371 456.8,368.8 L456.8,327.5 Z" fill="#3f3f3f" stroke="#2a2a2a" stroke-width="0.7"/>
<path d="M456.8,327.5 L466.8,319.7 L466.8,371 L459,371 Q456.8,371 456.8,368.8 Z" fill="#333"/>
<path d="M473.5,321.7 L499.5,321.7 L499.5,339.3 L473.5,339.3 Z" fill="#e2ebf0" stroke="#2a2a2a" stroke-width="0.6"/>
<path d="M439.2,351.8 L469.3,351.8 L469.3,363.5 L439.2,363.5 Z" fill="#3a3a3a" stroke="#2a2a2a" stroke-width="0.5"/>
<path d="M441.5,354 L462,354 L462,360 L441.5,360 Z" fill="#4d4d4d"/>
<text x="276.7" y="385.6" font-size="11.3" textLength="124.6" lengthAdjust="spacingAndGlyphs" fill="#2b2b2b" stroke="#2b2b2b" stroke-width="0.22" >Collect DNA and amplify</text>
<text x="412.8" y="385.6" font-size="11.3" textLength="102.9" lengthAdjust="spacingAndGlyphs" fill="#2b2b2b" stroke="#2b2b2b" stroke-width="0.22" >NGS &amp; data analysis</text>
</g>
<g id="C">
<polygon points="86,327 92,323.5 100,322.5 105,325 109,331 114,337 120,338 124,333 127,326 131,320 137,316 143,315 147,317 147.5,325 147.5,336 147.5,349 147,358 146,367 143,376 139.5,381 134,388 128.5,393 123,395 113,395 106,393 101.5,388 95,380 88.5,367 85.5,356 85,346 85,336" fill="#838584"/>
<circle cx="145.9" cy="370.8" r="1.3" fill="#838584"/>
<circle cx="156.3" cy="384.7" r="1.3" fill="#838584"/>
<circle cx="88.8" cy="373.2" r="1.3" fill="#838584"/>
<circle cx="147.2" cy="364.2" r="1.3" fill="#838584"/>
<circle cx="148.3" cy="318.3" r="1.3" fill="#838584"/>
<circle cx="147.0" cy="361.4" r="1.3" fill="#838584"/>
<circle cx="152.7" cy="320.4" r="1.3" fill="#838584"/>
<circle cx="153.0" cy="325.6" r="1.3" fill="#838584"/>
<circle cx="147.7" cy="362.9" r="1.3" fill="#838584"/>
<circle cx="137.5" cy="383.9" r="1.3" fill="#838584"/>
<circle cx="84.6" cy="335.8" r="1.3" fill="#838584"/>
<circle cx="148.5" cy="351.6" r="1.3" fill="#838584"/>
<circle cx="85.3" cy="377.0" r="1.3" fill="#838584"/>
<circle cx="82.9" cy="340.7" r="1.3" fill="#838584"/>
<circle cx="106.8" cy="323.6" r="1.3" fill="#838584"/>
<circle cx="91.5" cy="374.7" r="1.3" fill="#838584"/>
<circle cx="149.8" cy="359.0" r="1.3" fill="#838584"/>
<circle cx="94.1" cy="380.3" r="1.3" fill="#838584"/>
<circle cx="86.5" cy="360.8" r="1.3" fill="#838584"/>
<circle cx="141.2" cy="379.1" r="1.3" fill="#838584"/>
<circle cx="148.8" cy="318.0" r="1.3" fill="#838584"/>
<circle cx="145.1" cy="378.7" r="1.3" fill="#838584"/>
<circle cx="135.7" cy="390.7" r="1.3" fill="#838584"/>
<circle cx="148.2" cy="322.6" r="1.3" fill="#838584"/>
<circle cx="102.4" cy="321.6" r="1.3" fill="#838584"/>
<circle cx="131.0" cy="391.9" r="1.3" fill="#838584"/>
<circle cx="113.3" cy="332.6" r="1.3" fill="#838584"/>
<circle cx="126.1" cy="395.5" r="1.3" fill="#838584"/>
<circle cx="145.1" cy="380.1" r="1.3" fill="#838584"/>
<circle cx="92.3" cy="318.5" r="1.3" fill="#838584"/>
<circle cx="142.4" cy="314.7" r="1.3" fill="#838584"/>
<circle cx="148.3" cy="348.4" r="1.3" fill="#838584"/>
<circle cx="90.6" cy="374.3" r="1.3" fill="#838584"/>
<circle cx="131.9" cy="317.7" r="1.3" fill="#838584"/>
<circle cx="84.6" cy="335.0" r="1.3" fill="#838584"/>
<circle cx="134.1" cy="317.8" r="1.3" fill="#838584"/>
<circle cx="97.1" cy="387.3" r="1.3" fill="#838584"/>
<circle cx="147.2" cy="367.7" r="1.3" fill="#838584"/>
<circle cx="110.8" cy="395.5" r="1.3" fill="#838584"/>
<circle cx="114.0" cy="335.8" r="1.3" fill="#838584"/>
<circle cx="107.2" cy="322.3" r="1.3" fill="#838584"/>
<circle cx="107.4" cy="328.6" r="1.3" fill="#838584"/>
<circle cx="153.6" cy="363.9" r="1.3" fill="#838584"/>
<circle cx="131.3" cy="392.8" r="1.3" fill="#838584"/>
<circle cx="92.4" cy="375.3" r="1.3" fill="#838584"/>
<circle cx="120.5" cy="333.3" r="1.3" fill="#838584"/>
<circle cx="147.5" cy="372.7" r="1.3" fill="#838584"/>
<circle cx="147.2" cy="360.9" r="1.3" fill="#838584"/>
<circle cx="130.1" cy="391.9" r="1.3" fill="#838584"/>
<circle cx="99.2" cy="387.2" r="1.3" fill="#838584"/>
<circle cx="89.4" cy="370.5" r="1.3" fill="#838584"/>
<circle cx="83.9" cy="330.0" r="1.3" fill="#838584"/>
<circle cx="88.2" cy="323.2" r="1.3" fill="#838584"/>
<circle cx="93.5" cy="321.8" r="1.3" fill="#838584"/>
<circle cx="101.3" cy="391.4" r="1.3" fill="#838584"/>
<circle cx="97.6" cy="384.1" r="1.3" fill="#838584"/>
<circle cx="93.5" cy="392.0" r="1.3" fill="#838584"/>
<circle cx="148.7" cy="331.1" r="1.3" fill="#838584"/>
<circle cx="88.7" cy="376.6" r="1.3" fill="#838584"/>
<circle cx="85.2" cy="355.1" r="1.3" fill="#838584"/>
<circle cx="76.8" cy="347.4" r="1.3" fill="#838584"/>
<circle cx="84.8" cy="360.6" r="1.3" fill="#838584"/>
<circle cx="124.1" cy="326.9" r="1.3" fill="#838584"/>
<circle cx="150.5" cy="322.4" r="1.3" fill="#838584"/>
<circle cx="99.3" cy="386.2" r="1.3" fill="#838584"/>
<circle cx="129.8" cy="321.4" r="1.3" fill="#838584"/>
<circle cx="142.2" cy="314.1" r="1.3" fill="#838584"/>
<circle cx="152.7" cy="367.4" r="1.3" fill="#838584"/>
<circle cx="88.4" cy="323.7" r="1.3" fill="#838584"/>
<circle cx="119.1" cy="337.6" r="1.3" fill="#838584"/>
<circle cx="147.1" cy="376.6" r="1.3" fill="#838584"/>
<circle cx="129.7" cy="396.0" r="1.3" fill="#838584"/>
<circle cx="121.0" cy="333.9" r="1.3" fill="#838584"/>
<circle cx="131.4" cy="396.8" r="1.3" fill="#838584"/>
<circle cx="150.2" cy="321.3" r="1.3" fill="#838584"/>
<circle cx="150.0" cy="348.3" r="1.3" fill="#838584"/>
<circle cx="120.1" cy="395.0" r="1.3" fill="#838584"/>
<circle cx="100.7" cy="319.2" r="1.3" fill="#838584"/>
<circle cx="83.2" cy="335.3" r="1.3" fill="#838584"/>
<circle cx="109.5" cy="394.2" r="1.3" fill="#838584"/>
<circle cx="145.8" cy="368.1" r="1.3" fill="#838584"/>
<circle cx="108.9" cy="394.3" r="1.3" fill="#838584"/>
<circle cx="105.0" cy="394.8" r="1.3" fill="#838584"/>
<circle cx="99.0" cy="388.3" r="1.3" fill="#838584"/>
<circle cx="82.9" cy="344.6" r="1.3" fill="#838584"/>
<circle cx="93.5" cy="322.7" r="1.3" fill="#838584"/>
<circle cx="152.3" cy="367.7" r="1.3" fill="#838584"/>
<circle cx="147.9" cy="361.2" r="1.3" fill="#838584"/>
<circle cx="151.0" cy="339.7" r="1.3" fill="#838584"/>
<circle cx="94.9" cy="321.8" r="1.3" fill="#838584"/>
<circle cx="94.3" cy="382.4" r="1.3" fill="#838584"/>
<circle cx="104.3" cy="319.0" r="1.3" fill="#838584"/>
<circle cx="104.4" cy="395.1" r="1.3" fill="#838584"/>
<circle cx="145.3" cy="372.7" r="1.3" fill="#838584"/>
<circle cx="153.3" cy="354.1" r="1.3" fill="#838584"/>
<circle cx="149.5" cy="335.4" r="1.3" fill="#838584"/>
<circle cx="80.5" cy="353.4" r="1.3" fill="#838584"/>
<circle cx="95.1" cy="382.3" r="1.3" fill="#838584"/>
<circle cx="154.9" cy="320.9" r="1.3" fill="#838584"/>
<circle cx="142.5" cy="382.7" r="1.3" fill="#838584"/>
<circle cx="137.1" cy="385.4" r="1.3" fill="#838584"/>
<circle cx="84.8" cy="345.9" r="1.3" fill="#838584"/>
<circle cx="148.3" cy="355.3" r="1.3" fill="#838584"/>
<circle cx="90.2" cy="320.5" r="1.3" fill="#838584"/>
<circle cx="125.4" cy="329.0" r="1.3" fill="#838584"/>
<circle cx="125.7" cy="324.2" r="1.3" fill="#838584"/>
<circle cx="148.0" cy="372.0" r="1.3" fill="#838584"/>
<circle cx="89.9" cy="319.3" r="1.3" fill="#838584"/>
<circle cx="117.0" cy="335.8" r="1.3" fill="#838584"/>
<circle cx="148.6" cy="343.8" r="1.3" fill="#838584"/>
<circle cx="85.7" cy="363.0" r="1.3" fill="#838584"/>
<circle cx="117.7" cy="336.4" r="1.3" fill="#838584"/>
<circle cx="84.4" cy="325.7" r="1.3" fill="#838584"/>
<circle cx="148.9" cy="318.0" r="1.3" fill="#838584"/>
<circle cx="147.2" cy="355.1" r="1.3" fill="#838584"/>
<circle cx="85.1" cy="325.3" r="1.3" fill="#838584"/>
<circle cx="136.4" cy="315.6" r="1.3" fill="#838584"/>
<circle cx="85.0" cy="366.6" r="1.3" fill="#838584"/>
<circle cx="131.0" cy="394.1" r="1.3" fill="#838584"/>
<circle cx="84.3" cy="349.1" r="1.3" fill="#838584"/>
<circle cx="118.1" cy="337.4" r="1.3" fill="#838584"/>
<circle cx="87.1" cy="364.2" r="1.3" fill="#838584"/>
<circle cx="147.8" cy="350.7" r="1.3" fill="#838584"/>
<circle cx="136.5" cy="311.1" r="1.3" fill="#838584"/>
<circle cx="127.4" cy="323.0" r="1.3" fill="#838584"/>
<circle cx="90.2" cy="375.1" r="1.3" fill="#838584"/>
<circle cx="86.8" cy="366.7" r="1.3" fill="#838584"/>
<circle cx="120.6" cy="332.1" r="1.3" fill="#838584"/>
<circle cx="145.6" cy="378.6" r="1.3" fill="#838584"/>
<circle cx="98.8" cy="322.3" r="1.3" fill="#838584"/>
<circle cx="114.5" cy="336.7" r="1.3" fill="#838584"/>
<circle cx="111.9" cy="396.8" r="1.3" fill="#838584"/>
<circle cx="152.6" cy="353.1" r="1.3" fill="#838584"/>
<circle cx="84.1" cy="350.8" r="1.3" fill="#838584"/>
<circle cx="125.2" cy="323.9" r="1.3" fill="#838584"/>
<circle cx="128.3" cy="395.3" r="1.3" fill="#838584"/>
<circle cx="82.3" cy="362.1" r="1.3" fill="#838584"/>
<circle cx="129.5" cy="392.7" r="1.3" fill="#838584"/>
<circle cx="104.3" cy="321.2" r="1.3" fill="#838584"/>
<circle cx="81.9" cy="344.0" r="1.3" fill="#838584"/>
<circle cx="76.1" cy="340.1" r="1.3" fill="#838584"/>
<circle cx="104.8" cy="324.3" r="1.3" fill="#838584"/>
<circle cx="97.6" cy="322.7" r="1.3" fill="#838584"/>
<circle cx="145.2" cy="315.7" r="1.3" fill="#838584"/>
<circle cx="131.9" cy="319.3" r="1.3" fill="#838584"/>
<circle cx="116.2" cy="395.2" r="1.3" fill="#838584"/>
<circle cx="113.2" cy="397.1" r="1.3" fill="#838584"/>
<circle cx="104.9" cy="394.4" r="1.3" fill="#838584"/>
<circle cx="98.8" cy="392.1" r="1.3" fill="#838584"/>
<circle cx="73.2" cy="339.5" r="1.3" fill="#838584"/>
<circle cx="127.0" cy="322.5" r="1.3" fill="#838584"/>
<circle cx="147.4" cy="368.0" r="1.3" fill="#838584"/>
<circle cx="90.1" cy="375.3" r="1.3" fill="#838584"/>
<circle cx="113.3" cy="395.1" r="1.3" fill="#838584"/>
<circle cx="134.5" cy="388.4" r="1.3" fill="#838584"/>
<circle cx="140.5" cy="315.3" r="1.3" fill="#838584"/>
<circle cx="82.0" cy="358.2" r="1.3" fill="#838584"/>
<circle cx="147.4" cy="353.7" r="1.3" fill="#838584"/>
<circle cx="91.2" cy="383.2" r="1.3" fill="#838584"/>
<circle cx="83.5" cy="375.5" r="1.3" fill="#838584"/>
<circle cx="86.4" cy="325.9" r="1.3" fill="#838584"/>
<circle cx="87.5" cy="366.0" r="1.3" fill="#838584"/>
<circle cx="81.9" cy="343.7" r="1.3" fill="#838584"/>
<circle cx="90.5" cy="378.2" r="1.3" fill="#838584"/>
<circle cx="89.3" cy="369.7" r="1.3" fill="#838584"/>
<circle cx="123.9" cy="395.1" r="1.3" fill="#838584"/>
<circle cx="85.3" cy="323.9" r="1.3" fill="#838584"/>
<circle cx="82.5" cy="338.0" r="1.3" fill="#838584"/>
<circle cx="143.5" cy="374.5" r="1.3" fill="#838584"/>
<circle cx="147.8" cy="330.4" r="1.3" fill="#838584"/>
<circle cx="148.1" cy="353.4" r="1.3" fill="#838584"/>
<circle cx="81.9" cy="374.0" r="1.3" fill="#838584"/>
<circle cx="82.5" cy="325.6" r="1.3" fill="#838584"/>
<circle cx="79.4" cy="350.7" r="1.3" fill="#838584"/>
<circle cx="144.4" cy="377.2" r="1.3" fill="#838584"/>
<circle cx="88.7" cy="385.1" r="1.3" fill="#838584"/>
<circle cx="148.6" cy="316.7" r="1.3" fill="#838584"/>
<circle cx="147.6" cy="341.4" r="1.3" fill="#838584"/>
<circle cx="99.3" cy="391.2" r="1.3" fill="#838584"/>
<circle cx="93.7" cy="384.0" r="1.3" fill="#838584"/>
<circle cx="147.7" cy="343.6" r="1.3" fill="#838584"/>
<circle cx="79.9" cy="363.9" r="1.3" fill="#838584"/>
<circle cx="91.5" cy="322.4" r="1.3" fill="#838584"/>
<circle cx="147.9" cy="363.1" r="1.3" fill="#838584"/>
<circle cx="147.9" cy="329.1" r="1.3" fill="#838584"/>
<circle cx="105.6" cy="325.5" r="1.3" fill="#838584"/>
<circle cx="108.2" cy="327.0" r="1.3" fill="#838584"/>
<circle cx="85.0" cy="335.4" r="1.3" fill="#838584"/>
<circle cx="84.6" cy="338.8" r="1.3" fill="#838584"/>
<circle cx="120.5" cy="332.3" r="1.3" fill="#838584"/>
<circle cx="138.7" cy="314.3" r="1.3" fill="#838584"/>
<circle cx="83.1" cy="351.8" r="1.3" fill="#838584"/>
<circle cx="102.7" cy="394.5" r="1.3" fill="#838584"/>
<circle cx="149.2" cy="328.0" r="1.3" fill="#838584"/>
<circle cx="141.6" cy="393.1" r="1.3" fill="#838584"/>
<circle cx="87.0" cy="326.3" r="1.3" fill="#838584"/>
<circle cx="83.7" cy="327.8" r="1.3" fill="#838584"/>
<circle cx="150.3" cy="343.6" r="1.3" fill="#838584"/>
<circle cx="127.1" cy="314.0" r="1.3" fill="#838584"/>
<circle cx="129.9" cy="392.6" r="1.3" fill="#838584"/>
<circle cx="127.9" cy="394.1" r="1.3" fill="#838584"/>
<circle cx="126.6" cy="395.0" r="1.3" fill="#838584"/>
<circle cx="141.3" cy="380.5" r="1.3" fill="#838584"/>
<circle cx="82.9" cy="348.8" r="1.3" fill="#838584"/>
<circle cx="146.6" cy="314.8" r="1.3" fill="#838584"/>
<circle cx="102.7" cy="393.8" r="1.3" fill="#838584"/>
<circle cx="84.9" cy="358.2" r="1.3" fill="#838584"/>
<circle cx="106.0" cy="325.4" r="1.3" fill="#838584"/>
<circle cx="109.8" cy="331.0" r="1.3" fill="#838584"/>
<circle cx="89.7" cy="371.6" r="1.3" fill="#838584"/>
<circle cx="103.3" cy="322.3" r="1.3" fill="#838584"/>
<circle cx="147.6" cy="321.3" r="1.3" fill="#838584"/>
<circle cx="89.2" cy="370.1" r="1.3" fill="#838584"/>
<circle cx="135.3" cy="387.4" r="1.3" fill="#838584"/>
<circle cx="81.9" cy="348.0" r="1.3" fill="#838584"/>
<circle cx="148.1" cy="339.0" r="1.3" fill="#838584"/>
<circle cx="148.2" cy="361.7" r="1.3" fill="#838584"/>
<circle cx="148.0" cy="357.2" r="1.3" fill="#838584"/>
<circle cx="93.4" cy="322.3" r="1.3" fill="#838584"/>
<circle cx="84.9" cy="344.4" r="1.3" fill="#838584"/>
<circle cx="145.2" cy="374.9" r="1.3" fill="#838584"/>
<circle cx="82.0" cy="351.3" r="1.3" fill="#838584"/>
<circle cx="101.5" cy="392.6" r="1.3" fill="#838584"/>
<circle cx="82.8" cy="362.7" r="1.3" fill="#838584"/>
<circle cx="112.1" cy="395.0" r="1.3" fill="#838584"/>
<circle cx="111.6" cy="397.1" r="1.3" fill="#838584"/>
<circle cx="135.8" cy="388.7" r="1.3" fill="#838584"/>
<circle cx="147.9" cy="333.1" r="1.3" fill="#838584"/>
<circle cx="81.6" cy="346.9" r="1.3" fill="#838584"/>
<circle cx="138.5" cy="389.4" r="1.3" fill="#838584"/>
<circle cx="148.7" cy="324.3" r="1.3" fill="#838584"/>
<circle cx="148.4" cy="351.6" r="1.3" fill="#838584"/>
<circle cx="128.9" cy="321.2" r="1.3" fill="#838584"/>
<circle cx="102.6" cy="389.7" r="1.3" fill="#838584"/>
<circle cx="79.0" cy="367.0" r="1.3" fill="#838584"/>
<circle cx="85.0" cy="355.1" r="1.3" fill="#838584"/>
<circle cx="154.0" cy="343.5" r="1.3" fill="#838584"/>
<circle cx="106.1" cy="396.9" r="1.3" fill="#838584"/>
<circle cx="143.9" cy="313.6" r="1.3" fill="#838584"/>
<circle cx="118.7" cy="322.3" r="1.3" fill="#838584"/>
<circle cx="100.0" cy="387.3" r="1.3" fill="#838584"/>
<circle cx="87.5" cy="325.3" r="1.3" fill="#838584"/>
<circle cx="102.4" cy="398.1" r="1.3" fill="#838584"/>
<circle cx="147.7" cy="330.9" r="1.3" fill="#838584"/>
<circle cx="87.1" cy="322.4" r="1.3" fill="#838584"/>
<circle cx="149.1" cy="368.9" r="1.3" fill="#838584"/>
<circle cx="85.9" cy="358.1" r="1.3" fill="#838584"/>
<circle cx="109.7" cy="325.3" r="1.3" fill="#838584"/>
<circle cx="123.1" cy="399.9" r="1.3" fill="#838584"/>
<circle cx="82.4" cy="353.4" r="1.3" fill="#838584"/>
<circle cx="84.2" cy="324.5" r="1.3" fill="#838584"/>
<circle cx="83.8" cy="350.3" r="1.3" fill="#838584"/>
<circle cx="103.1" cy="321.6" r="1.3" fill="#838584"/>
<circle cx="142.4" cy="378.4" r="1.3" fill="#838584"/>
<circle cx="149.8" cy="350.0" r="1.3" fill="#838584"/>
<circle cx="153.2" cy="358.6" r="1.3" fill="#838584"/>
<circle cx="126.6" cy="394.6" r="1.3" fill="#838584"/>
<circle cx="121.8" cy="397.8" r="1.3" fill="#838584"/>
<circle cx="124.4" cy="398.7" r="1.3" fill="#838584"/>
<circle cx="149.0" cy="351.0" r="1.3" fill="#838584"/>
<circle cx="139.7" cy="383.2" r="1.3" fill="#838584"/>
<circle cx="83.4" cy="344.7" r="1.3" fill="#838584"/>
<circle cx="113.0" cy="398.6" r="1.3" fill="#838584"/>
<circle cx="143.0" cy="311.1" r="1.3" fill="#838584"/>
<circle cx="104.0" cy="391.1" r="1.3" fill="#838584"/>
<circle cx="108.9" cy="326.5" r="1.3" fill="#838584"/>
<circle cx="124.2" cy="395.8" r="1.3" fill="#838584"/>
<circle cx="147.5" cy="323.9" r="1.3" fill="#838584"/>
<circle cx="89.7" cy="384.4" r="1.3" fill="#838584"/>
<circle cx="107.7" cy="328.3" r="1.3" fill="#838584"/>
<circle cx="101.9" cy="389.6" r="1.3" fill="#838584"/>
<circle cx="108.7" cy="395.0" r="1.3" fill="#838584"/>
<circle cx="126.7" cy="395.3" r="1.3" fill="#838584"/>
<circle cx="128.5" cy="396.2" r="1.3" fill="#838584"/>
<circle cx="125.3" cy="394.5" r="1.3" fill="#838584"/>
<circle cx="146.1" cy="315.0" r="1.3" fill="#838584"/>
<circle cx="94.7" cy="380.4" r="1.3" fill="#838584"/>
<circle cx="84.7" cy="341.9" r="1.3" fill="#838584"/>
<circle cx="97.2" cy="322.4" r="1.3" fill="#838584"/>
<circle cx="93.8" cy="385.3" r="1.3" fill="#838584"/>
<circle cx="110.6" cy="332.7" r="1.3" fill="#838584"/>
<circle cx="103.1" cy="390.8" r="1.3" fill="#838584"/>
<circle cx="147.6" cy="351.5" r="1.3" fill="#838584"/>
<circle cx="126.4" cy="396.2" r="1.3" fill="#838584"/>
<circle cx="149.1" cy="326.9" r="1.3" fill="#838584"/>
<circle cx="137.9" cy="314.4" r="1.3" fill="#838584"/>
<circle cx="90.1" cy="380.0" r="1.3" fill="#838584"/>
<circle cx="154.6" cy="343.2" r="1.3" fill="#838584"/>
<circle cx="147.5" cy="345.3" r="1.3" fill="#838584"/>
<circle cx="142.6" cy="377.4" r="1.3" fill="#838584"/>
<circle cx="80.1" cy="354.8" r="1.3" fill="#838584"/>
<circle cx="140.3" cy="312.0" r="1.3" fill="#838584"/>
<circle cx="147.8" cy="368.1" r="1.3" fill="#838584"/>
<circle cx="141.9" cy="377.8" r="1.3" fill="#838584"/>
<circle cx="101.7" cy="389.1" r="1.3" fill="#838584"/>
<circle cx="97.8" cy="391.3" r="1.3" fill="#838584"/>
<circle cx="148.9" cy="366.3" r="1.3" fill="#838584"/>
<circle cx="138.3" cy="314.6" r="1.3" fill="#838584"/>
<circle cx="112.1" cy="398.4" r="1.3" fill="#838584"/>
<circle cx="147.1" cy="313.8" r="1.3" fill="#838584"/>
<circle cx="148.2" cy="324.6" r="1.3" fill="#838584"/>
<circle cx="127.7" cy="323.6" r="1.3" fill="#838584"/>
<circle cx="149.2" cy="336.6" r="1.3" fill="#838584"/>
<circle cx="155.2" cy="350.3" r="1.3" fill="#838584"/>
<circle cx="136.0" cy="387.9" r="1.3" fill="#838584"/>
<circle cx="132.6" cy="318.0" r="1.3" fill="#838584"/>
<circle cx="150.3" cy="332.7" r="1.3" fill="#838584"/>
<circle cx="125.3" cy="329.4" r="1.3" fill="#838584"/>
<circle cx="148.8" cy="358.2" r="1.3" fill="#838584"/>
<circle cx="147.3" cy="371.6" r="1.3" fill="#838584"/>
<circle cx="142.5" cy="380.0" r="1.3" fill="#838584"/>
<circle cx="97.6" cy="322.6" r="1.3" fill="#838584"/>
<circle cx="148.0" cy="360.9" r="1.3" fill="#838584"/>
<circle cx="115.5" cy="399.3" r="1.3" fill="#838584"/>
<circle cx="148.4" cy="347.1" r="1.3" fill="#838584"/>
<circle cx="158.7" cy="359.4" r="1.3" fill="#838584"/>
<circle cx="107.2" cy="396.3" r="1.3" fill="#838584"/>
<circle cx="110.5" cy="397.3" r="1.3" fill="#838584"/>
<circle cx="144.8" cy="378.1" r="1.3" fill="#838584"/>
<circle cx="90.0" cy="376.7" r="1.3" fill="#838584"/>
<circle cx="81.9" cy="348.8" r="1.3" fill="#838584"/>
<circle cx="101.8" cy="396.5" r="1.3" fill="#838584"/>
<circle cx="91.6" cy="383.1" r="1.3" fill="#838584"/>
<circle cx="82.8" cy="353.5" r="1.3" fill="#838584"/>
<circle cx="80.6" cy="352.8" r="1.3" fill="#838584"/>
<circle cx="131.9" cy="394.6" r="1.3" fill="#838584"/>
<circle cx="86.2" cy="367.8" r="1.3" fill="#838584"/>
<circle cx="122.9" cy="331.9" r="1.3" fill="#838584"/>
<circle cx="92.4" cy="321.2" r="1.3" fill="#838584"/>
<circle cx="126.7" cy="395.1" r="1.3" fill="#838584"/>
<circle cx="125.3" cy="308.7" r="1.3" fill="#838584"/>
<circle cx="127.4" cy="316.3" r="1.3" fill="#838584"/>
<circle cx="112.4" cy="309.7" r="1.3" fill="#838584"/>
<circle cx="144.6" cy="307.9" r="1.3" fill="#838584"/>
<circle cx="116.9" cy="307.9" r="1.3" fill="#838584"/>
<circle cx="121.5" cy="306.4" r="1.3" fill="#838584"/>
<circle cx="140.1" cy="313.8" r="1.3" fill="#838584"/>
<circle cx="117.4" cy="311.5" r="1.3" fill="#838584"/>
<circle cx="115.7" cy="315.7" r="1.3" fill="#838584"/>
<circle cx="124.4" cy="315.1" r="1.3" fill="#838584"/>
<circle cx="100.7" cy="310.8" r="1.3" fill="#838584"/>
<circle cx="112.7" cy="316.9" r="1.3" fill="#838584"/>
<circle cx="109.5" cy="316.1" r="1.3" fill="#838584"/>
<circle cx="95.2" cy="316.9" r="1.3" fill="#838584"/>
<circle cx="88.7" cy="311.5" r="1.3" fill="#838584"/>
<circle cx="112.4" cy="309.1" r="1.3" fill="#838584"/>
<circle cx="143.5" cy="315.1" r="1.3" fill="#838584"/>
<circle cx="144.4" cy="311.0" r="1.3" fill="#838584"/>
<circle cx="117.6" cy="311.0" r="1.3" fill="#838584"/>
<circle cx="145.3" cy="310.3" r="1.3" fill="#838584"/>
<circle cx="137.7" cy="304.6" r="1.3" fill="#838584"/>
<circle cx="146.5" cy="310.8" r="1.3" fill="#838584"/>
<circle cx="108.5" cy="308.8" r="1.3" fill="#838584"/>
<circle cx="112.4" cy="303.5" r="1.3" fill="#838584"/>
<circle cx="92.5" cy="313.0" r="1.3" fill="#838584"/>
<circle cx="100.5" cy="306.3" r="1.3" fill="#838584"/>
<circle cx="121.8" cy="311.2" r="1.3" fill="#838584"/>
<circle cx="127.7" cy="312.8" r="1.3" fill="#838584"/>
<circle cx="106.0" cy="328.7" r="1.3" fill="#838584"/>
<circle cx="110.1" cy="325.6" r="1.3" fill="#838584"/>
<circle cx="121.7" cy="316.3" r="1.3" fill="#838584"/>
<circle cx="115.6" cy="328.0" r="1.3" fill="#838584"/>
<circle cx="129.6" cy="327.6" r="1.3" fill="#838584"/>
<circle cx="126.9" cy="335.4" r="1.3" fill="#838584"/>
<circle cx="126.6" cy="327.4" r="1.3" fill="#838584"/>
<circle cx="107.8" cy="322.1" r="1.3" fill="#838584"/>
<circle cx="106.4" cy="317.5" r="1.3" fill="#838584"/>
<circle cx="115.4" cy="331.7" r="1.3" fill="#838584"/>
<circle cx="122.4" cy="333.0" r="1.3" fill="#838584"/>
<circle cx="109.2" cy="319.0" r="1.3" fill="#838584"/>
<circle cx="104.8" cy="327.0" r="1.3" fill="#838584"/>
<circle cx="111.6" cy="332.4" r="1.3" fill="#838584"/>
<circle cx="123.7" cy="323.2" r="1.3" fill="#838584"/>
<circle cx="110.8" cy="327.1" r="1.3" fill="#838584"/>
<circle cx="126.4" cy="335.5" r="1.3" fill="#838584"/>
<circle cx="123.1" cy="331.6" r="1.3" fill="#838584"/>
<circle cx="121.4" cy="316.6" r="1.3" fill="#838584"/>
<circle cx="122.2" cy="316.3" r="1.3" fill="#838584"/>
<circle cx="104.5" cy="321.1" r="1.3" fill="#838584"/>
<circle cx="111.7" cy="332.9" r="1.3" fill="#838584"/>
<circle cx="122.2" cy="320.8" r="1.3" fill="#838584"/>
<circle cx="129.3" cy="316.5" r="1.3" fill="#838584"/>
<circle cx="117.7" cy="334.1" r="1.3" fill="#838584"/>
<circle cx="106.9" cy="330.0" r="1.3" fill="#838584"/>
<circle cx="158.9" cy="353.3" r="1.3" fill="#838584"/>
<circle cx="149.9" cy="363.3" r="1.3" fill="#838584"/>
<circle cx="170.0" cy="347.0" r="1.3" fill="#838584"/>
<circle cx="154.7" cy="339.0" r="1.3" fill="#838584"/>
<circle cx="162.6" cy="346.9" r="1.3" fill="#838584"/>
<circle cx="161.5" cy="342.7" r="1.3" fill="#838584"/>
<circle cx="165.6" cy="344.3" r="1.3" fill="#838584"/>
<circle cx="173.2" cy="345.2" r="1.3" fill="#838584"/>
<circle cx="149.8" cy="339.8" r="1.3" fill="#838584"/>
<circle cx="149.3" cy="350.1" r="1.3" fill="#838584"/>
<circle cx="165.8" cy="344.1" r="1.3" fill="#838584"/>
<circle cx="169.1" cy="355.5" r="1.3" fill="#838584"/>
<circle cx="165.6" cy="352.5" r="1.3" fill="#838584"/>
<circle cx="181.9" cy="336.1" r="1.3" fill="#838584"/>
<circle cx="158.3" cy="338.1" r="1.3" fill="#838584"/>
<circle cx="168.9" cy="358.2" r="1.3" fill="#838584"/>
<circle cx="170.7" cy="355.9" r="1.3" fill="#838584"/>
<circle cx="163.5" cy="364.2" r="1.3" fill="#838584"/>
<circle cx="173.7" cy="356.6" r="1.3" fill="#838584"/>
<circle cx="154.2" cy="342.1" r="1.3" fill="#838584"/>
<circle cx="174.4" cy="340.9" r="1.3" fill="#838584"/>
<circle cx="174.8" cy="348.9" r="1.3" fill="#838584"/>
<circle cx="184.1" cy="344.9" r="1.3" fill="#838584"/>
<circle cx="167.9" cy="344.9" r="1.3" fill="#838584"/>
<circle cx="180.9" cy="339.9" r="1.3" fill="#838584"/>
<circle cx="152.6" cy="370.1" r="1.3" fill="#838584"/>
<circle cx="85.5" cy="353.5" r="1.3" fill="#838584"/>
<circle cx="81.4" cy="359.1" r="1.3" fill="#838584"/>
<circle cx="80.3" cy="355.7" r="1.3" fill="#838584"/>
<circle cx="82.1" cy="357.4" r="1.3" fill="#838584"/>
<circle cx="86.0" cy="355.3" r="1.3" fill="#838584"/>
<circle cx="80.2" cy="346.3" r="1.3" fill="#838584"/>
<circle cx="83.1" cy="375.3" r="1.3" fill="#838584"/>
<circle cx="79.4" cy="349.5" r="1.3" fill="#838584"/>
<circle cx="228.8" cy="343.3" r="1.3" fill="#838584"/>
<circle cx="123.5" cy="277.7" r="1.3" fill="#838584"/>
<circle cx="88.2" cy="279.0" r="1.3" fill="#838584"/>
<circle cx="140.5" cy="274.8" r="1.3" fill="#838584"/>
<circle cx="95.8" cy="291.8" r="1.3" fill="#838584"/>
<circle cx="101.5" cy="302.3" r="1.3" fill="#838584"/>
<circle cx="108.8" cy="305.7" r="1.3" fill="#838584"/>
<circle cx="104.6" cy="307.7" r="1.3" fill="#838584"/>
<circle cx="122.3" cy="311.5" r="1.3" fill="#838584"/>
<circle cx="128.5" cy="307.0" r="1.3" fill="#838584"/>
<circle cx="87.7" cy="295.8" r="1.3" fill="#838584"/>
<circle cx="90.8" cy="298.5" r="1.3" fill="#838584"/>
<circle cx="94.6" cy="296.0" r="1.3" fill="#838584"/>
<circle cx="93.0" cy="301.5" r="1.3" fill="#838584"/>
<circle cx="90.0" cy="305.4" r="1.3" fill="#838584"/>
<circle cx="91.5" cy="307.7" r="1.3" fill="#838584"/>
<circle cx="186.5" cy="358.7" r="1.3" fill="#838584"/>
<circle cx="178.0" cy="359.0" r="1.3" fill="#838584"/>
<circle cx="173.8" cy="360.2" r="1.3" fill="#838584"/>
<circle cx="168.6" cy="361.9" r="1.3" fill="#838584"/>
<circle cx="162.8" cy="361.3" r="1.3" fill="#838584"/>
<circle cx="159.0" cy="370.8" r="1.3" fill="#838584"/>
<circle cx="148.5" cy="377.0" r="1.3" fill="#838584"/>
<circle cx="174.9" cy="349.6" r="1.3" fill="#838584"/>
<circle cx="174.9" cy="345.0" r="1.3" fill="#838584"/>
<circle cx="167.0" cy="340.0" r="1.3" fill="#838584"/>
<circle cx="80.5" cy="335.4" r="1.3" fill="#ef7468"/>
<circle cx="86.6" cy="328.8" r="1.3" fill="#ef7468"/>
<circle cx="87.3" cy="324.9" r="1.3" fill="#ef7468"/>
<circle cx="86.4" cy="339.0" r="1.3" fill="#ef7468"/>
<circle cx="82.6" cy="326.9" r="1.3" fill="#ef7468"/>
<circle cx="82.4" cy="318.4" r="1.3" fill="#ef7468"/>
<circle cx="86.1" cy="321.6" r="1.3" fill="#ef7468"/>
<circle cx="86.0" cy="317.0" r="1.3" fill="#ef7468"/>
<circle cx="85.8" cy="332.1" r="1.3" fill="#ef7468"/>
<circle cx="82.8" cy="338.7" r="1.3" fill="#ef7468"/>
<circle cx="84.2" cy="324.4" r="1.3" fill="#ef7468"/>
<circle cx="82.6" cy="323.5" r="1.3" fill="#ef7468"/>
<circle cx="84.0" cy="319.1" r="1.3" fill="#ef7468"/>
<circle cx="85.2" cy="324.1" r="1.3" fill="#ef7468"/>
<circle cx="82.7" cy="320.4" r="1.3" fill="#ef7468"/>
<circle cx="87.6" cy="335.8" r="1.3" fill="#ef7468"/>
<circle cx="84.7" cy="329.7" r="1.3" fill="#ef7468"/>
<circle cx="84.9" cy="322.9" r="1.3" fill="#ef7468"/>
<circle cx="85.1" cy="322.0" r="1.3" fill="#ef7468"/>
<circle cx="87.2" cy="320.8" r="1.3" fill="#ef7468"/>
<circle cx="85.2" cy="336.2" r="1.3" fill="#ef7468"/>
<circle cx="81.0" cy="322.8" r="1.3" fill="#ef7468"/>
<circle cx="82.9" cy="323.2" r="1.3" fill="#ef7468"/>
<circle cx="86.0" cy="323.3" r="1.3" fill="#ef7468"/>
<circle cx="83.6" cy="328.4" r="1.3" fill="#ef7468"/>
<circle cx="84.6" cy="325.6" r="1.3" fill="#ef7468"/>
<circle cx="86.5" cy="317.5" r="1.3" fill="#ef7468"/>
<circle cx="84.4" cy="329.7" r="1.3" fill="#ef7468"/>
<circle cx="81.6" cy="331.1" r="1.3" fill="#ef7468"/>
<circle cx="81.7" cy="321.7" r="1.3" fill="#ef7468"/>
<circle cx="83.9" cy="332.8" r="1.3" fill="#ef7468"/>
<circle cx="86.1" cy="329.1" r="1.3" fill="#ef7468"/>
<circle cx="81.4" cy="333.6" r="1.3" fill="#ef7468"/>
<circle cx="86.3" cy="325.9" r="1.3" fill="#ef7468"/>
<circle cx="85.3" cy="325.2" r="1.3" fill="#ef7468"/>
<circle cx="85.7" cy="324.3" r="1.3" fill="#ef7468"/>
<circle cx="84.7" cy="329.5" r="1.3" fill="#ef7468"/>
<circle cx="85.2" cy="327.0" r="1.3" fill="#ef7468"/>
<circle cx="79.8" cy="337.7" r="1.3" fill="#ef7468"/>
<circle cx="83.0" cy="325.5" r="1.3" fill="#ef7468"/>
<circle cx="82.8" cy="323.7" r="1.3" fill="#ef7468"/>
<circle cx="87.2" cy="322.0" r="1.3" fill="#ef7468"/>
<circle cx="83.5" cy="328.4" r="1.3" fill="#ef7468"/>
<circle cx="83.8" cy="333.4" r="1.3" fill="#ef7468"/>
<circle cx="84.6" cy="326.1" r="1.3" fill="#ef7468"/>
<circle cx="84.7" cy="319.3" r="1.3" fill="#ef7468"/>
<circle cx="84.3" cy="319.0" r="1.3" fill="#ef7468"/>
<circle cx="83.9" cy="333.1" r="1.3" fill="#ef7468"/>
<circle cx="87.4" cy="318.5" r="1.3" fill="#ef7468"/>
<circle cx="83.7" cy="323.9" r="1.3" fill="#ef7468"/>
<circle cx="83.5" cy="324.6" r="1.3" fill="#ef7468"/>
<circle cx="87.5" cy="335.6" r="1.3" fill="#ef7468"/>
<circle cx="84.0" cy="325.1" r="1.3" fill="#ef7468"/>
<circle cx="84.3" cy="320.7" r="1.3" fill="#ef7468"/>
<circle cx="84.8" cy="332.3" r="1.3" fill="#ef7468"/>
<circle cx="83.9" cy="322.5" r="1.3" fill="#ef7468"/>
<circle cx="85.4" cy="318.1" r="1.3" fill="#ef7468"/>
<circle cx="83.9" cy="331.7" r="1.3" fill="#ef7468"/>
<circle cx="85.2" cy="335.1" r="1.3" fill="#ef7468"/>
<circle cx="85.5" cy="335.8" r="1.3" fill="#ef7468"/>
<circle cx="85.9" cy="333.4" r="1.3" fill="#ef7468"/>
<circle cx="81.1" cy="325.3" r="1.3" fill="#ef7468"/>
<circle cx="85.7" cy="336.1" r="1.3" fill="#ef7468"/>
<circle cx="83.7" cy="336.5" r="1.3" fill="#ef7468"/>
<circle cx="86.3" cy="337.8" r="1.3" fill="#ef7468"/>
<circle cx="83.7" cy="329.0" r="1.3" fill="#ef7468"/>
<circle cx="83.8" cy="330.0" r="1.3" fill="#ef7468"/>
<circle cx="85.6" cy="335.4" r="1.3" fill="#ef7468"/>
<circle cx="84.0" cy="317.1" r="1.3" fill="#ef7468"/>
<circle cx="83.8" cy="337.8" r="1.3" fill="#ef7468"/>
<circle cx="84.2" cy="334.3" r="1.3" fill="#ef7468"/>
<circle cx="83.7" cy="333.5" r="1.3" fill="#ef7468"/>
<circle cx="85.7" cy="337.0" r="1.3" fill="#ef7468"/>
<circle cx="84.8" cy="331.5" r="1.3" fill="#ef7468"/>
<circle cx="85.9" cy="320.7" r="1.3" fill="#ef7468"/>
<circle cx="83.7" cy="332.8" r="1.3" fill="#ef7468"/>
<circle cx="84.2" cy="325.8" r="1.3" fill="#ef7468"/>
<circle cx="82.7" cy="325.2" r="1.3" fill="#ef7468"/>
<circle cx="82.3" cy="317.9" r="1.3" fill="#ef7468"/>
<circle cx="80.5" cy="330.7" r="1.3" fill="#ef7468"/>
<circle cx="86.1" cy="319.1" r="1.3" fill="#ef7468"/>
<circle cx="84.4" cy="321.0" r="1.3" fill="#ef7468"/>
<circle cx="85.1" cy="317.1" r="1.3" fill="#ef7468"/>
<circle cx="81.0" cy="321.5" r="1.3" fill="#ef7468"/>
<circle cx="83.9" cy="331.7" r="1.3" fill="#ef7468"/>
<circle cx="83.1" cy="334.7" r="1.3" fill="#ef7468"/>
<circle cx="85.9" cy="335.5" r="1.3" fill="#ef7468"/>
<circle cx="84.6" cy="322.3" r="1.3" fill="#ef7468"/>
<circle cx="83.3" cy="319.4" r="1.3" fill="#ef7468"/>
<circle cx="84.0" cy="325.8" r="1.3" fill="#ef7468"/>
<circle cx="87.3" cy="334.6" r="1.3" fill="#ef7468"/>
<circle cx="85.1" cy="324.9" r="1.3" fill="#ef7468"/>
<circle cx="84.3" cy="327.3" r="1.3" fill="#ef7468"/>
<circle cx="84.0" cy="335.7" r="1.3" fill="#ef7468"/>
<circle cx="83.0" cy="323.1" r="1.3" fill="#ef7468"/>
<circle cx="82.3" cy="314.2" r="1.3" fill="#ef7468"/>
<circle cx="76.2" cy="316.9" r="1.3" fill="#ef7468"/>
<circle cx="75.4" cy="290.1" r="1.3" fill="#ef7468"/>
<circle cx="72.0" cy="309.3" r="1.3" fill="#ef7468"/>
<circle cx="80.8" cy="310.5" r="1.3" fill="#ef7468"/>
<circle cx="73.5" cy="315.5" r="1.3" fill="#ef7468"/>
<circle cx="81.3" cy="313.9" r="1.3" fill="#ef7468"/>
<circle cx="84.1" cy="294.4" r="1.3" fill="#ef7468"/>
<circle cx="67.7" cy="304.2" r="1.3" fill="#ef7468"/>
<circle cx="72.9" cy="309.3" r="1.3" fill="#ef7468"/>
<circle cx="80.9" cy="316.2" r="1.3" fill="#ef7468"/>
<circle cx="86.6" cy="312.8" r="1.3" fill="#ef7468"/>
<circle cx="81.1" cy="295.3" r="1.3" fill="#ef7468"/>
<circle cx="67.6" cy="313.4" r="1.3" fill="#ef7468"/>
<circle cx="71.5" cy="302.7" r="1.3" fill="#ef7468"/>
<circle cx="75.3" cy="307.9" r="1.3" fill="#ef7468"/>
<circle cx="84.9" cy="316.5" r="1.3" fill="#ef7468"/>
<circle cx="81.6" cy="309.9" r="1.3" fill="#ef7468"/>
<circle cx="69.1" cy="297.9" r="1.3" fill="#ef7468"/>
<circle cx="68.8" cy="309.9" r="1.3" fill="#ef7468"/>
<circle cx="81.5" cy="316.6" r="1.3" fill="#ef7468"/>
<circle cx="78.4" cy="300.9" r="1.3" fill="#ef7468"/>
<circle cx="80.7" cy="316.0" r="1.3" fill="#ef7468"/>
<circle cx="84.7" cy="304.6" r="1.3" fill="#ef7468"/>
<circle cx="74.2" cy="257.4" r="1.3" fill="#ef7468"/>
<circle cx="73.4" cy="264.2" r="1.3" fill="#ef7468"/>
<circle cx="81.5" cy="262.0" r="1.3" fill="#ef7468"/>
<circle cx="82.3" cy="270.0" r="1.3" fill="#ef7468"/>
<circle cx="81.5" cy="273.8" r="1.3" fill="#ef7468"/>
<circle cx="82.0" cy="280.5" r="1.3" fill="#ef7468"/>
<circle cx="70.5" cy="285.4" r="1.3" fill="#ef7468"/>
<circle cx="75.4" cy="288.2" r="1.3" fill="#ef7468"/>
<circle cx="68.5" cy="293.0" r="1.3" fill="#ef7468"/>
<circle cx="79.2" cy="291.5" r="1.3" fill="#ef7468"/>
<circle cx="80.0" cy="296.0" r="1.3" fill="#ef7468"/>
<circle cx="69.2" cy="299.2" r="1.3" fill="#ef7468"/>
<circle cx="73.0" cy="302.3" r="1.3" fill="#ef7468"/>
<circle cx="77.7" cy="299.2" r="1.3" fill="#ef7468"/>
<circle cx="77.7" cy="302.3" r="1.3" fill="#ef7468"/>
<circle cx="87.0" cy="300.0" r="1.3" fill="#ef7468"/>
<circle cx="75.4" cy="308.5" r="1.3" fill="#ef7468"/>
<circle cx="82.3" cy="308.5" r="1.3" fill="#ef7468"/>
<circle cx="68.5" cy="314.6" r="1.3" fill="#ef7468"/>
<circle cx="74.6" cy="311.5" r="1.3" fill="#ef7468"/>
<circle cx="87.0" cy="310.0" r="1.3" fill="#ef7468"/>
<circle cx="149.5" cy="307.2" r="1.3" fill="#2bbac4"/>
<circle cx="155.2" cy="332.5" r="1.3" fill="#2bbac4"/>
<circle cx="145.8" cy="338.6" r="1.3" fill="#2bbac4"/>
<circle cx="148.9" cy="299.7" r="1.3" fill="#2bbac4"/>
<circle cx="147.6" cy="331.2" r="1.3" fill="#2bbac4"/>
<circle cx="150.5" cy="312.3" r="1.3" fill="#2bbac4"/>
<circle cx="159.4" cy="327.0" r="1.3" fill="#2bbac4"/>
<circle cx="149.2" cy="323.0" r="1.3" fill="#2bbac4"/>
<circle cx="159.1" cy="337.0" r="1.3" fill="#2bbac4"/>
<circle cx="146.6" cy="321.0" r="1.3" fill="#2bbac4"/>
<circle cx="154.6" cy="338.0" r="1.3" fill="#2bbac4"/>
<circle cx="169.3" cy="302.3" r="1.3" fill="#2bbac4"/>
<circle cx="153.5" cy="315.4" r="1.3" fill="#2bbac4"/>
<circle cx="148.3" cy="308.2" r="1.3" fill="#2bbac4"/>
<circle cx="146.2" cy="329.6" r="1.3" fill="#2bbac4"/>
<circle cx="149.4" cy="332.0" r="1.3" fill="#2bbac4"/>
<circle cx="148.0" cy="317.9" r="1.3" fill="#2bbac4"/>
<circle cx="160.7" cy="312.2" r="1.3" fill="#2bbac4"/>
<circle cx="164.0" cy="308.4" r="1.3" fill="#2bbac4"/>
<circle cx="151.4" cy="319.3" r="1.3" fill="#2bbac4"/>
<circle cx="160.3" cy="325.9" r="1.3" fill="#2bbac4"/>
<circle cx="151.7" cy="299.8" r="1.3" fill="#2bbac4"/>
<circle cx="151.9" cy="334.3" r="1.3" fill="#2bbac4"/>
<circle cx="156.0" cy="328.4" r="1.3" fill="#2bbac4"/>
<circle cx="151.3" cy="339.9" r="1.3" fill="#2bbac4"/>
<circle cx="149.0" cy="298.9" r="1.3" fill="#2bbac4"/>
<circle cx="158.8" cy="339.4" r="1.3" fill="#2bbac4"/>
<circle cx="146.2" cy="305.8" r="1.3" fill="#2bbac4"/>
<circle cx="164.1" cy="333.8" r="1.3" fill="#2bbac4"/>
<circle cx="150.4" cy="308.1" r="1.3" fill="#2bbac4"/>
<circle cx="147.1" cy="324.0" r="1.3" fill="#2bbac4"/>
<circle cx="150.8" cy="337.0" r="1.3" fill="#2bbac4"/>
<circle cx="148.6" cy="339.7" r="1.3" fill="#2bbac4"/>
<circle cx="155.7" cy="333.5" r="1.3" fill="#2bbac4"/>
<circle cx="161.9" cy="307.4" r="1.3" fill="#2bbac4"/>
<circle cx="152.8" cy="305.3" r="1.3" fill="#2bbac4"/>
<circle cx="148.6" cy="338.2" r="1.3" fill="#2bbac4"/>
<circle cx="160.6" cy="338.3" r="1.3" fill="#2bbac4"/>
<circle cx="152.0" cy="310.0" r="1.3" fill="#2bbac4"/>
<circle cx="157.7" cy="319.8" r="1.3" fill="#2bbac4"/>
<circle cx="150.2" cy="315.5" r="1.3" fill="#2bbac4"/>
<circle cx="151.8" cy="298.1" r="1.3" fill="#2bbac4"/>
<circle cx="146.7" cy="319.9" r="1.3" fill="#2bbac4"/>
<circle cx="149.7" cy="306.9" r="1.3" fill="#2bbac4"/>
<circle cx="145.7" cy="303.8" r="1.3" fill="#2bbac4"/>
<circle cx="170.3" cy="335.2" r="1.3" fill="#2bbac4"/>
<circle cx="158.5" cy="299.1" r="1.3" fill="#2bbac4"/>
<circle cx="160.5" cy="319.8" r="1.3" fill="#2bbac4"/>
<circle cx="145.5" cy="308.7" r="1.3" fill="#2bbac4"/>
<circle cx="148.2" cy="333.2" r="1.3" fill="#2bbac4"/>
<circle cx="145.9" cy="313.8" r="1.3" fill="#2bbac4"/>
<circle cx="157.6" cy="330.6" r="1.3" fill="#2bbac4"/>
<circle cx="150.1" cy="337.7" r="1.3" fill="#2bbac4"/>
<circle cx="151.0" cy="329.9" r="1.3" fill="#2bbac4"/>
<circle cx="165.2" cy="331.2" r="1.3" fill="#2bbac4"/>
<circle cx="150.8" cy="331.3" r="1.3" fill="#2bbac4"/>
<circle cx="145.8" cy="330.6" r="1.3" fill="#2bbac4"/>
<circle cx="157.6" cy="331.7" r="1.3" fill="#2bbac4"/>
<circle cx="150.3" cy="337.4" r="1.3" fill="#2bbac4"/>
<circle cx="151.4" cy="322.4" r="1.3" fill="#2bbac4"/>
<circle cx="152.2" cy="312.3" r="1.3" fill="#2bbac4"/>
<circle cx="154.3" cy="319.4" r="1.3" fill="#2bbac4"/>
<circle cx="149.6" cy="318.5" r="1.3" fill="#2bbac4"/>
<circle cx="146.5" cy="306.1" r="1.3" fill="#2bbac4"/>
<circle cx="152.5" cy="318.4" r="1.3" fill="#2bbac4"/>
<circle cx="147.9" cy="340.0" r="1.3" fill="#2bbac4"/>
<circle cx="146.6" cy="323.5" r="1.3" fill="#2bbac4"/>
<circle cx="165.5" cy="320.2" r="1.3" fill="#2bbac4"/>
<circle cx="154.8" cy="310.4" r="1.3" fill="#2bbac4"/>
<circle cx="151.9" cy="308.1" r="1.3" fill="#2bbac4"/>
<circle cx="148.2" cy="315.2" r="1.3" fill="#2bbac4"/>
<circle cx="164.4" cy="332.1" r="1.3" fill="#2bbac4"/>
<circle cx="149.8" cy="323.7" r="1.3" fill="#2bbac4"/>
<circle cx="164.4" cy="337.4" r="1.3" fill="#2bbac4"/>
<circle cx="145.7" cy="327.8" r="1.3" fill="#2bbac4"/>
<circle cx="149.8" cy="308.1" r="1.3" fill="#2bbac4"/>
<circle cx="149.6" cy="335.3" r="1.3" fill="#2bbac4"/>
<circle cx="148.8" cy="329.1" r="1.3" fill="#2bbac4"/>
<circle cx="153.0" cy="303.4" r="1.3" fill="#2bbac4"/>
<circle cx="156.1" cy="335.4" r="1.3" fill="#2bbac4"/>
<circle cx="148.7" cy="319.2" r="1.3" fill="#2bbac4"/>
<circle cx="150.9" cy="305.5" r="1.3" fill="#2bbac4"/>
<circle cx="146.3" cy="309.2" r="1.3" fill="#2bbac4"/>
<circle cx="166.3" cy="319.8" r="1.3" fill="#2bbac4"/>
<circle cx="159.9" cy="305.5" r="1.3" fill="#2bbac4"/>
<circle cx="147.9" cy="338.5" r="1.3" fill="#2bbac4"/>
<circle cx="164.7" cy="305.0" r="1.3" fill="#2bbac4"/>
<circle cx="147.1" cy="324.2" r="1.3" fill="#2bbac4"/>
<circle cx="163.5" cy="298.4" r="1.3" fill="#2bbac4"/>
<circle cx="168.6" cy="298.7" r="1.3" fill="#2bbac4"/>
<circle cx="152.3" cy="319.9" r="1.3" fill="#2bbac4"/>
<circle cx="151.2" cy="311.4" r="1.3" fill="#2bbac4"/>
<circle cx="147.0" cy="298.7" r="1.3" fill="#2bbac4"/>
<circle cx="162.5" cy="307.7" r="1.3" fill="#2bbac4"/>
<circle cx="145.6" cy="309.7" r="1.3" fill="#2bbac4"/>
<circle cx="154.5" cy="330.3" r="1.3" fill="#2bbac4"/>
<circle cx="145.6" cy="311.4" r="1.3" fill="#2bbac4"/>
<circle cx="146.0" cy="325.9" r="1.3" fill="#2bbac4"/>
<circle cx="146.1" cy="299.6" r="1.3" fill="#2bbac4"/>
<circle cx="156.6" cy="334.2" r="1.3" fill="#2bbac4"/>
<circle cx="156.2" cy="328.8" r="1.3" fill="#2bbac4"/>
<circle cx="173.3" cy="306.2" r="1.3" fill="#2bbac4"/>
<circle cx="146.1" cy="315.5" r="1.3" fill="#2bbac4"/>
<circle cx="173.6" cy="320.3" r="1.3" fill="#2bbac4"/>
<circle cx="152.7" cy="316.2" r="1.3" fill="#2bbac4"/>
<circle cx="168.3" cy="270.0" r="1.3" fill="#2bbac4"/>
<circle cx="163.8" cy="296.5" r="1.3" fill="#2bbac4"/>
<circle cx="174.4" cy="280.9" r="1.3" fill="#2bbac4"/>
<circle cx="160.4" cy="281.6" r="1.3" fill="#2bbac4"/>
<circle cx="159.6" cy="275.6" r="1.3" fill="#2bbac4"/>
<circle cx="154.5" cy="268.4" r="1.3" fill="#2bbac4"/>
<circle cx="150.9" cy="286.7" r="1.3" fill="#2bbac4"/>
<circle cx="158.1" cy="269.7" r="1.3" fill="#2bbac4"/>
<circle cx="153.1" cy="287.6" r="1.3" fill="#2bbac4"/>
<circle cx="146.1" cy="278.1" r="1.3" fill="#2bbac4"/>
<circle cx="160.3" cy="278.0" r="1.3" fill="#2bbac4"/>
<circle cx="158.5" cy="268.5" r="1.3" fill="#2bbac4"/>
<circle cx="168.0" cy="277.6" r="1.3" fill="#2bbac4"/>
<circle cx="148.5" cy="287.3" r="1.3" fill="#2bbac4"/>
<circle cx="147.0" cy="333.2" r="1.3" fill="#2bbac4"/>
<circle cx="154.7" cy="321.8" r="1.3" fill="#2bbac4"/>
<circle cx="176.3" cy="313.2" r="1.3" fill="#2bbac4"/>
<circle cx="164.5" cy="300.2" r="1.3" fill="#2bbac4"/>
<circle cx="179.4" cy="297.9" r="1.3" fill="#2bbac4"/>
<circle cx="160.5" cy="336.8" r="1.3" fill="#2bbac4"/>
<circle cx="155.7" cy="303.8" r="1.3" fill="#2bbac4"/>
<circle cx="146.9" cy="330.1" r="1.3" fill="#2bbac4"/>
<circle cx="157.9" cy="310.5" r="1.3" fill="#2bbac4"/>
<circle cx="185.6" cy="336.4" r="1.3" fill="#2bbac4"/>
<circle cx="151.5" cy="318.1" r="1.3" fill="#2bbac4"/>
<circle cx="148.6" cy="332.7" r="1.3" fill="#2bbac4"/>
<circle cx="157.1" cy="335.8" r="1.3" fill="#2bbac4"/>
<circle cx="146.8" cy="297.8" r="1.3" fill="#2bbac4"/>
<circle cx="155.8" cy="277.1" r="1.3" fill="#2bbac4"/>
<circle cx="161.2" cy="334.3" r="1.3" fill="#2bbac4"/>
<circle cx="183.3" cy="317.6" r="1.3" fill="#2bbac4"/>
<circle cx="145.0" cy="318.2" r="1.3" fill="#2bbac4"/>
<circle cx="147.2" cy="327.5" r="1.3" fill="#2bbac4"/>
<circle cx="151.5" cy="299.3" r="1.3" fill="#2bbac4"/>
<circle cx="147.9" cy="338.0" r="1.3" fill="#2bbac4"/>
<circle cx="161.1" cy="321.3" r="1.3" fill="#2bbac4"/>
<circle cx="167.9" cy="295.3" r="1.3" fill="#2bbac4"/>
<circle cx="161.8" cy="319.7" r="1.3" fill="#2bbac4"/>
<circle cx="147.2" cy="332.5" r="1.3" fill="#2bbac4"/>
<circle cx="153.7" cy="293.5" r="1.3" fill="#2bbac4"/>
<circle cx="167.9" cy="311.4" r="1.3" fill="#2bbac4"/>
<circle cx="157.4" cy="292.8" r="1.3" fill="#2bbac4"/>
<circle cx="177.1" cy="317.3" r="1.3" fill="#2bbac4"/>
<circle cx="152.9" cy="322.4" r="1.3" fill="#2bbac4"/>
<circle cx="168.6" cy="306.4" r="1.3" fill="#2bbac4"/>
<circle cx="157.0" cy="328.1" r="1.3" fill="#2bbac4"/>
<circle cx="164.3" cy="302.2" r="1.3" fill="#2bbac4"/>
<circle cx="169.7" cy="327.6" r="1.3" fill="#2bbac4"/>
<circle cx="154.0" cy="279.1" r="1.3" fill="#2bbac4"/>
<circle cx="150.0" cy="312.9" r="1.3" fill="#2bbac4"/>
<circle cx="160.3" cy="298.3" r="1.3" fill="#2bbac4"/>
<circle cx="155.3" cy="322.2" r="1.3" fill="#2bbac4"/>
<circle cx="164.8" cy="332.5" r="1.3" fill="#2bbac4"/>
<circle cx="153.6" cy="327.3" r="1.3" fill="#2bbac4"/>
<circle cx="152.8" cy="305.2" r="1.3" fill="#2bbac4"/>
<circle cx="152.5" cy="323.1" r="1.3" fill="#2bbac4"/>
<circle cx="171.5" cy="318.6" r="1.3" fill="#2bbac4"/>
<circle cx="183.0" cy="326.6" r="1.3" fill="#2bbac4"/>
<circle cx="161.8" cy="301.3" r="1.3" fill="#2bbac4"/>
<circle cx="148.8" cy="299.3" r="1.3" fill="#2bbac4"/>
<circle cx="147.3" cy="288.8" r="1.3" fill="#2bbac4"/>
<circle cx="148.0" cy="308.9" r="1.3" fill="#2bbac4"/>
<circle cx="170.8" cy="308.0" r="1.3" fill="#2bbac4"/>
<circle cx="160.6" cy="324.9" r="1.3" fill="#2bbac4"/>
<circle cx="169.6" cy="301.8" r="1.3" fill="#2bbac4"/>
<circle cx="154.0" cy="334.8" r="1.3" fill="#2bbac4"/>
<circle cx="161.0" cy="325.4" r="1.3" fill="#2bbac4"/>
<circle cx="149.7" cy="319.7" r="1.3" fill="#2bbac4"/>
<circle cx="175.9" cy="325.5" r="1.3" fill="#2bbac4"/>
<circle cx="153.8" cy="340.1" r="1.3" fill="#2bbac4"/>
<circle cx="168.8" cy="336.9" r="1.3" fill="#2bbac4"/>
<circle cx="151.6" cy="339.4" r="1.3" fill="#2bbac4"/>
<circle cx="150.5" cy="293.0" r="1.3" fill="#2bbac4"/>
<circle cx="153.6" cy="315.3" r="1.3" fill="#2bbac4"/>
<circle cx="145.1" cy="338.5" r="1.3" fill="#2bbac4"/>
<circle cx="166.4" cy="321.3" r="1.3" fill="#2bbac4"/>
<circle cx="145.3" cy="302.5" r="1.3" fill="#2bbac4"/>
<circle cx="172.3" cy="301.7" r="1.3" fill="#2bbac4"/>
<circle cx="147.9" cy="335.3" r="1.3" fill="#2bbac4"/>
<circle cx="168.1" cy="327.2" r="1.3" fill="#2bbac4"/>
<circle cx="147.4" cy="303.5" r="1.3" fill="#2bbac4"/>
<circle cx="162.9" cy="336.2" r="1.3" fill="#2bbac4"/>
<circle cx="145.5" cy="327.5" r="1.3" fill="#2bbac4"/>
<circle cx="163.3" cy="303.3" r="1.3" fill="#2bbac4"/>
<circle cx="159.0" cy="322.7" r="1.3" fill="#2bbac4"/>
<circle cx="149.5" cy="305.3" r="1.3" fill="#2bbac4"/>
<circle cx="165.1" cy="322.2" r="1.3" fill="#2bbac4"/>
<circle cx="155.1" cy="331.5" r="1.3" fill="#2bbac4"/>
<circle cx="148.9" cy="335.6" r="1.3" fill="#2bbac4"/>
<circle cx="152.4" cy="296.8" r="1.3" fill="#2bbac4"/>
<circle cx="165.2" cy="337.9" r="1.3" fill="#2bbac4"/>
<circle cx="146.9" cy="331.8" r="1.3" fill="#2bbac4"/>
<circle cx="146.6" cy="336.2" r="1.3" fill="#2bbac4"/>
<circle cx="158.8" cy="302.2" r="1.3" fill="#2bbac4"/>
<circle cx="151.0" cy="339.7" r="1.3" fill="#2bbac4"/>
<circle cx="171.8" cy="294.9" r="1.3" fill="#2bbac4"/>
<circle cx="152.7" cy="336.5" r="1.3" fill="#2bbac4"/>
<circle cx="161.5" cy="314.5" r="1.3" fill="#2bbac4"/>
<circle cx="163.9" cy="306.8" r="1.3" fill="#2bbac4"/>
<circle cx="155.1" cy="288.8" r="1.3" fill="#2bbac4"/>
<circle cx="149.8" cy="199.8" r="1.3" fill="#2bbac4"/>
<circle cx="161.0" cy="199.8" r="1.3" fill="#2bbac4"/>
<circle cx="164.1" cy="199.8" r="1.3" fill="#2bbac4"/>
<circle cx="174.1" cy="199.8" r="1.3" fill="#2bbac4"/>
<circle cx="176.8" cy="199.8" r="1.3" fill="#2bbac4"/>
<circle cx="194.4" cy="199.4" r="1.3" fill="#2bbac4"/>
<circle cx="206.4" cy="199.4" r="1.3" fill="#2bbac4"/>
<circle cx="159.5" cy="213.1" r="1.3" fill="#2bbac4"/>
<circle cx="154.2" cy="224.5" r="1.3" fill="#2bbac4"/>
<circle cx="165.6" cy="227.8" r="1.3" fill="#2bbac4"/>
<circle cx="160.7" cy="230.7" r="1.3" fill="#2bbac4"/>
<circle cx="181.7" cy="231.0" r="1.3" fill="#2bbac4"/>
<circle cx="144.8" cy="236.7" r="1.3" fill="#2bbac4"/>
<circle cx="159.2" cy="237.9" r="1.3" fill="#2bbac4"/>
<circle cx="165.6" cy="239.3" r="1.3" fill="#2bbac4"/>
<circle cx="173.6" cy="242.5" r="1.3" fill="#2bbac4"/>
<circle cx="186.0" cy="241.0" r="1.3" fill="#2bbac4"/>
<circle cx="149.1" cy="248.8" r="1.3" fill="#2bbac4"/>
<circle cx="166.4" cy="256.0" r="1.3" fill="#2bbac4"/>
<circle cx="152.9" cy="259.5" r="1.3" fill="#2bbac4"/>
<circle cx="160.1" cy="263.3" r="1.3" fill="#2bbac4"/>
<circle cx="209.1" cy="262.7" r="1.3" fill="#2bbac4"/>
<circle cx="152.0" cy="272.0" r="1.3" fill="#2bbac4"/>
<circle cx="160.7" cy="272.8" r="1.3" fill="#2bbac4"/>
<circle cx="166.4" cy="270.5" r="1.3" fill="#2bbac4"/>
<circle cx="173.0" cy="275.4" r="1.3" fill="#2bbac4"/>
<circle cx="189.5" cy="275.7" r="1.3" fill="#2bbac4"/>
<circle cx="191.0" cy="293.0" r="1.3" fill="#2bbac4"/>
<circle cx="183.4" cy="340.5" r="1.3" fill="#2bbac4"/>
<circle cx="185.5" cy="336.5" r="1.3" fill="#2bbac4"/>
<circle cx="176.0" cy="335.9" r="1.3" fill="#2bbac4"/>
<circle cx="185.5" cy="328.0" r="1.3" fill="#2bbac4"/>
<circle cx="184.4" cy="324.2" r="1.3" fill="#2bbac4"/>
<circle cx="177.7" cy="324.2" r="1.3" fill="#2bbac4"/>
<line x1="177" y1="199.5" x2="191.5" y2="194.8" stroke="#2bbac4" stroke-width="0.7"/>
<line x1="194.4" y1="199.4" x2="205" y2="210.5" stroke="#2bbac4" stroke-width="0.7"/>
<line x1="134.3" y1="238.6" x2="144.8" y2="236.7" stroke="#2bbac4" stroke-width="0.7"/>
<line x1="134.3" y1="247.3" x2="149.1" y2="248.8" stroke="#2bbac4" stroke-width="0.7"/>
<line x1="166.4" y1="256" x2="188.5" y2="258.2" stroke="#2bbac4" stroke-width="0.7"/>
<text x="138.8" y="196.6" font-size="6.3" fill="#55bcc5">IFNAR2</text>
<text x="166.9" y="196.6" font-size="6.3" fill="#55bcc5">SMC1A</text>
<text x="192.3" y="196.6" font-size="6.3" fill="#55bcc5">MED12</text>
<text x="130.9" y="205.5" font-size="6.3" fill="#55bcc5">AHR</text>
<text x="148.7" y="207.2" font-size="6.3" fill="#55bcc5">MYD88</text>
<text x="174.7" y="207.2" font-size="6.3" fill="#55bcc5">STAT2</text>
<text x="209.2" y="206.6" font-size="6.3" fill="#55bcc5">NIPBL</text>
<text x="198" y="215.8" font-size="6.3" fill="#55bcc5">MAU2</text>
<text x="161" y="215.8" font-size="6.3" fill="#55bcc5">CUL3</text>
<text x="136" y="223" font-size="6.3" fill="#55bcc5">KMT2C</text>
<text x="162.7" y="225.2" font-size="6.3" fill="#55bcc5">SMC3</text>
<text x="184.7" y="229.2" font-size="6.3" fill="#55bcc5">NF2</text>
<text x="128.8" y="231.8" font-size="6.3" fill="#55bcc5">PPP2R2A</text>
<text x="162.7" y="237.5" font-size="6.3" fill="#55bcc5">HUWE1</text>
<text x="190.4" y="242" font-size="6.3" fill="#55bcc5">POLR2F</text>
<text x="107.3" y="241.5" font-size="6.3" fill="#55bcc5">AMOTL2</text>
<text x="137.6" y="243.8" font-size="6.3" fill="#55bcc5">PAGR1</text>
<text x="105" y="250.5" font-size="6.3" fill="#55bcc5">SUPT20H</text>
<text x="172.2" y="251" font-size="6.3" fill="#55bcc5">RAD21</text>
<text x="152" y="252.7" font-size="6.3" fill="#55bcc5">RPL6</text>
<text x="127" y="258.7" font-size="6.3" fill="#55bcc5">MAK16</text>
<text x="189.3" y="259.5" font-size="6.3" fill="#55bcc5">PRIM1</text>
<text x="139.6" y="267.5" font-size="6.3" fill="#55bcc5">CPOX</text>
<text x="163.5" y="267.5" font-size="6.3" fill="#55bcc5">PDRG1</text>
<text x="205.4" y="269.8" font-size="6.3" fill="#55bcc5">MED30</text>
<text x="186.6" y="283.6" font-size="6.3" fill="#55bcc5">EIF3CL</text>
<text x="194.4" y="292" font-size="6.3" fill="#55bcc5">CCT2</text>
<text x="41.9" y="255.7" font-size="6.3" fill="#f08a80">HIST1H2BC</text>
<text x="81.5" y="259.5" font-size="6.3" fill="#f08a80">TAS2R46</text>
<text x="45.8" y="270.7" font-size="6.3" fill="#f08a80">GTF2H2</text>
<text x="84.8" y="267.6" font-size="6.3" fill="#f08a80">PJA2</text>
<text x="57" y="279.2" font-size="6.3" fill="#f08a80">CCNA1</text>
<text x="80.4" y="288" font-size="6.3" fill="#f08a80">VPS37A</text>
<text x="115.2" y="409.8" font-size="11" font-weight="bold" text-anchor="middle" fill="#111">LFC</text>
<text transform="translate(29.6,294.5) rotate(-90)" font-size="11.8" font-weight="bold" text-anchor="middle" fill="#111">−Log<tspan font-size="7.5" dy="2.5">10</tspan><tspan dy="-2.5"> (adjp)</tspan></text>
</g>
<g id="D">
<rect x="379.6" y="423.40" width="83.16" height="8.1" fill="#808080" stroke="#2a2a2a" stroke-width="0.9"/>
<line x1="374.3" y1="427.45" x2="379.6" y2="427.45" stroke="#222" stroke-width="0.9"/>
<text x="373.5" y="431.10" font-size="10.62" text-anchor="end" fill="#111" stroke="#111" stroke-width="0.2">Mitotic sister chromatid cohesion</text>
<rect x="379.6" y="436.93" width="63.99" height="8.1" fill="#808080" stroke="#2a2a2a" stroke-width="0.9"/>
<line x1="374.3" y1="440.98" x2="379.6" y2="440.98" stroke="#222" stroke-width="0.9"/>
<text x="373.5" y="444.63" font-size="10.62" text-anchor="end" fill="#111" stroke="#111" stroke-width="0.2">Translational initiation</text>
<rect x="379.6" y="450.46" width="56.13" height="8.1" fill="#808080" stroke="#2a2a2a" stroke-width="0.9"/>
<line x1="374.3" y1="454.51" x2="379.6" y2="454.51" stroke="#222" stroke-width="0.9"/>
<text x="373.5" y="458.16" font-size="10.62" text-anchor="end" fill="#111" stroke="#111" stroke-width="0.2">Stem cell population maintenance</text>
<rect x="379.6" y="463.99" width="53.13" height="8.1" fill="#808080" stroke="#2a2a2a" stroke-width="0.9"/>
<line x1="374.3" y1="468.04" x2="379.6" y2="468.04" stroke="#222" stroke-width="0.9"/>
<text x="373.5" y="471.69" font-size="10.62" text-anchor="end" fill="#111" stroke="#111" stroke-width="0.2">Nuclear-transcribed mRNA catabolic process, nonsense-mediated decay</text>
<rect x="379.6" y="477.52" width="50.13" height="8.1" fill="#808080" stroke="#2a2a2a" stroke-width="0.9"/>
<line x1="374.3" y1="481.57" x2="379.6" y2="481.57" stroke="#222" stroke-width="0.9"/>
<text x="373.5" y="485.22" font-size="10.62" text-anchor="end" fill="#111" stroke="#111" stroke-width="0.2">Mediator complex binding</text>
<rect x="379.6" y="491.05" width="46.20" height="8.1" fill="#808080" stroke="#2a2a2a" stroke-width="0.9"/>
<line x1="374.3" y1="495.10" x2="379.6" y2="495.10" stroke="#222" stroke-width="0.9"/>
<text x="373.5" y="498.75" font-size="10.62" text-anchor="end" fill="#111" stroke="#111" stroke-width="0.2">Cohesin complex</text>
<rect x="379.6" y="504.58" width="43.89" height="8.1" fill="#808080" stroke="#2a2a2a" stroke-width="0.9"/>
<line x1="374.3" y1="508.63" x2="379.6" y2="508.63" stroke="#222" stroke-width="0.9"/>
<text x="373.5" y="512.28" font-size="10.62" text-anchor="end" fill="#111" stroke="#111" stroke-width="0.2">SRP-dependent cotranslational protein targeting to membrane</text>
<rect x="379.6" y="518.11" width="40.43" height="8.1" fill="#808080" stroke="#2a2a2a" stroke-width="0.9"/>
<line x1="374.3" y1="522.16" x2="379.6" y2="522.16" stroke="#222" stroke-width="0.9"/>
<text x="373.5" y="525.81" font-size="10.62" text-anchor="end" fill="#111" stroke="#111" stroke-width="0.2">Viral transcription</text>
<rect x="379.6" y="531.64" width="36.27" height="8.1" fill="#808080" stroke="#2a2a2a" stroke-width="0.9"/>
<line x1="374.3" y1="535.69" x2="379.6" y2="535.69" stroke="#222" stroke-width="0.9"/>
<text x="373.5" y="539.34" font-size="10.62" text-anchor="end" fill="#111" stroke="#111" stroke-width="0.2">Cytosolic large ribosomal subunit</text>
<rect x="379.6" y="545.17" width="35.11" height="8.1" fill="#808080" stroke="#2a2a2a" stroke-width="0.9"/>
<line x1="374.3" y1="549.22" x2="379.6" y2="549.22" stroke="#222" stroke-width="0.9"/>
<text x="373.5" y="552.87" font-size="10.62" text-anchor="end" fill="#111" stroke="#111" stroke-width="0.2">Ribosome</text>
<line x1="379.6" y1="418.8" x2="379.6" y2="559" stroke="#222" stroke-width="1"/>
<line x1="379.1" y1="558.5" x2="472.5" y2="558.5" stroke="#222" stroke-width="1"/>
<line x1="379.60" y1="558.5" x2="379.60" y2="562.5" stroke="#222" stroke-width="0.9"/>
<text x="379.60" y="573.7" font-size="10.5" text-anchor="middle" fill="#111" stroke="#111" stroke-width="0.2">0</text>
<line x1="402.70" y1="558.5" x2="402.70" y2="562.5" stroke="#222" stroke-width="0.9"/>
<text x="402.70" y="573.7" font-size="10.5" text-anchor="middle" fill="#111" stroke="#111" stroke-width="0.2">2</text>
<line x1="425.80" y1="558.5" x2="425.80" y2="562.5" stroke="#222" stroke-width="0.9"/>
<text x="425.80" y="573.7" font-size="10.5" text-anchor="middle" fill="#111" stroke="#111" stroke-width="0.2">4</text>
<line x1="448.90" y1="558.5" x2="448.90" y2="562.5" stroke="#222" stroke-width="0.9"/>
<text x="448.90" y="573.7" font-size="10.5" text-anchor="middle" fill="#111" stroke="#111" stroke-width="0.2">6</text>
<line x1="472.00" y1="558.5" x2="472.00" y2="562.5" stroke="#222" stroke-width="0.9"/>
<text x="472.00" y="573.7" font-size="10.5" text-anchor="middle" fill="#111" stroke="#111" stroke-width="0.2">8</text>
<rect x="357.5" y="578.8" width="15" height="8.2" fill="#808080" stroke="#2a2a2a" stroke-width="0.9"/>
<text x="377.3" y="586.3" font-size="10.5" fill="#111" stroke="#111" stroke-width="0.2" textLength="82" lengthAdjust="spacingAndGlyphs">−Log<tspan font-size="7.5" dy="2.5">10</tspan><tspan dy="-2.5"> (</tspan><tspan font-style="italic">P</tspan> value)</text>
</g>
<g id="E" fill="#1a1a1a" stroke="#1a1a1a" stroke-width="0.16">
<line x1="18.5" y1="605" x2="493.6" y2="605" stroke="#222" stroke-width="1.5"/>
<line x1="18.5" y1="820" x2="493.6" y2="820" stroke="#222" stroke-width="1.5"/>
<text x="39.5" y="617.3" font-size="10.8" text-anchor="middle">Rank</text>
<text x="95" y="617.3" font-size="10.8" text-anchor="middle">Gene</text>
<text x="157.7" y="617.3" font-size="10.8" text-anchor="middle">No. of sgRNA</text>
<text x="229" y="617.3" font-size="10.8" text-anchor="middle" font-style="italic">P</text>
<text x="267.8" y="617.3" font-size="11" textLength="92" lengthAdjust="spacingAndGlyphs">Relevant pathways</text>
<text x="39.2" y="632.70" font-size="10.8" text-anchor="middle">1</text>
<text x="95.5" y="632.70" font-size="10.8" text-anchor="middle" textLength="28.7" lengthAdjust="spacingAndGlyphs">NIPBL</text>
<text x="162.8" y="632.70" font-size="10.8" text-anchor="middle">4</text>
<text x="230" y="632.70" font-size="10.8" text-anchor="middle">2.59E−07</text>
<text x="267.8" y="632.70" font-size="11" textLength="162.5" lengthAdjust="spacingAndGlyphs">Mitotic sister chromatid cohesion</text>
<text x="39.2" y="648.05" font-size="10.8" text-anchor="middle">2</text>
<text x="95.5" y="648.05" font-size="10.8" text-anchor="middle" textLength="27.6" lengthAdjust="spacingAndGlyphs">MAU2</text>
<text x="162.8" y="648.05" font-size="10.8" text-anchor="middle">4</text>
<text x="230" y="648.05" font-size="10.8" text-anchor="middle">2.59E−07</text>
<text x="267.8" y="648.05" font-size="11" textLength="162.5" lengthAdjust="spacingAndGlyphs">Mitotic sister chromatid cohesion</text>
<text x="39.2" y="663.40" font-size="10.8" text-anchor="middle">3</text>
<text x="95.5" y="663.40" font-size="10.8" text-anchor="middle" textLength="29.4" lengthAdjust="spacingAndGlyphs">STAT2</text>
<text x="162.8" y="663.40" font-size="10.8" text-anchor="middle">4</text>
<text x="230" y="663.40" font-size="10.8" text-anchor="middle">2.59E−07</text>
<text x="267.8" y="663.40" font-size="11" textLength="171" lengthAdjust="spacingAndGlyphs">Type I interferon signaling pathway</text>
<text x="39.2" y="678.75" font-size="10.8" text-anchor="middle">4</text>
<text x="95.5" y="678.75" font-size="10.8" text-anchor="middle" textLength="21.0" lengthAdjust="spacingAndGlyphs">AHR</text>
<text x="162.8" y="678.75" font-size="10.8" text-anchor="middle">4</text>
<text x="230" y="678.75" font-size="10.8" text-anchor="middle">2.59E−07</text>
<text x="267.8" y="678.75" font-size="11" textLength="145.5" lengthAdjust="spacingAndGlyphs">Regulation of gene expression</text>
<text x="39.2" y="694.10" font-size="10.8" text-anchor="middle">5</text>
<text x="95.5" y="694.10" font-size="10.8" text-anchor="middle" textLength="34.2" lengthAdjust="spacingAndGlyphs">SMC1A</text>
<text x="162.8" y="694.10" font-size="10.8" text-anchor="middle">4</text>
<text x="230" y="694.10" font-size="10.8" text-anchor="middle">2.59E−07</text>
<text x="267.8" y="694.10" font-size="11" textLength="162.5" lengthAdjust="spacingAndGlyphs">Mitotic sister chromatid cohesion</text>
<text x="39.2" y="709.45" font-size="10.8" text-anchor="middle">6</text>
<text x="95.5" y="709.45" font-size="10.8" text-anchor="middle" textLength="33.1" lengthAdjust="spacingAndGlyphs">MYD88</text>
<text x="162.8" y="709.45" font-size="10.8" text-anchor="middle">4</text>
<text x="230" y="709.45" font-size="10.8" text-anchor="middle">2.59E−07</text>
<text x="267.8" y="709.45" font-size="11" textLength="59.8" lengthAdjust="spacingAndGlyphs">IL1 signaling</text>
<text x="39.2" y="724.80" font-size="10.8" text-anchor="middle">7</text>
<text x="95.5" y="724.80" font-size="10.8" text-anchor="middle" textLength="33.1" lengthAdjust="spacingAndGlyphs">MED12</text>
<text x="162.8" y="724.80" font-size="10.8" text-anchor="middle">3</text>
<text x="230" y="724.80" font-size="10.8" text-anchor="middle">2.59E−07</text>
<text x="267.8" y="724.80" font-size="11" textLength="181.7" lengthAdjust="spacingAndGlyphs">Androgen receptor signaling pathway</text>
<text x="39.2" y="740.15" font-size="10.8" text-anchor="middle">8</text>
<text x="95.5" y="740.15" font-size="10.8" text-anchor="middle" textLength="35.3" lengthAdjust="spacingAndGlyphs">IFNAR2</text>
<text x="162.8" y="740.15" font-size="10.8" text-anchor="middle">4</text>
<text x="230" y="740.15" font-size="10.8" text-anchor="middle">2.59E−07</text>
<text x="267.8" y="740.15" font-size="11" textLength="171" lengthAdjust="spacingAndGlyphs">Type I interferon signaling pathway</text>
<text x="39.2" y="755.50" font-size="10.8" text-anchor="middle">11</text>
<text x="95.5" y="755.50" font-size="10.8" text-anchor="middle" textLength="27.6" lengthAdjust="spacingAndGlyphs">SMC3</text>
<text x="162.8" y="755.50" font-size="10.8" text-anchor="middle">4</text>
<text x="230" y="755.50" font-size="10.8" text-anchor="middle">2.33E−06</text>
<text x="267.8" y="755.50" font-size="11" textLength="162.5" lengthAdjust="spacingAndGlyphs">Mitotic sister chromatid cohesion</text>
<text x="39.2" y="770.85" font-size="10.8" text-anchor="middle">19</text>
<text x="95.5" y="770.85" font-size="10.8" text-anchor="middle" textLength="32.0" lengthAdjust="spacingAndGlyphs">RAD21</text>
<text x="162.8" y="770.85" font-size="10.8" text-anchor="middle">4</text>
<text x="230" y="770.85" font-size="10.8" text-anchor="middle">7.51E−06</text>
<text x="267.8" y="770.85" font-size="11" textLength="162.5" lengthAdjust="spacingAndGlyphs">Mitotic sister chromatid cohesion</text>
<text x="39.2" y="786.20" font-size="10.8" text-anchor="middle">42</text>
<text x="95.5" y="786.20" font-size="10.8" text-anchor="middle" textLength="26.5" lengthAdjust="spacingAndGlyphs">IL1R1</text>
<text x="162.8" y="786.20" font-size="10.8" text-anchor="middle">4</text>
<text x="230" y="786.20" font-size="10.8" text-anchor="middle" textLength="61" lengthAdjust="spacingAndGlyphs">0.00023336</text>
<text x="267.8" y="786.20" font-size="11" textLength="59.8" lengthAdjust="spacingAndGlyphs">IL1 signaling</text>
<text x="39.2" y="801.55" font-size="10.8" text-anchor="middle">50</text>
<text x="95.5" y="801.55" font-size="10.8" text-anchor="middle" textLength="28.7" lengthAdjust="spacingAndGlyphs">IRAK1</text>
<text x="162.8" y="801.55" font-size="10.8" text-anchor="middle">4</text>
<text x="230" y="801.55" font-size="10.8" text-anchor="middle" textLength="51" lengthAdjust="spacingAndGlyphs">0.0004188</text>
<text x="267.8" y="801.55" font-size="11" textLength="59.8" lengthAdjust="spacingAndGlyphs">IL1 signaling</text>
<text x="39.2" y="816.90" font-size="10.8" text-anchor="middle">52</text>
<text x="95.5" y="816.90" font-size="10.8" text-anchor="middle" textLength="35.2" lengthAdjust="spacingAndGlyphs">TIPARP</text>
<text x="162.8" y="816.90" font-size="10.8" text-anchor="middle">4</text>
<text x="230" y="816.90" font-size="10.8" text-anchor="middle" textLength="61" lengthAdjust="spacingAndGlyphs">0.00044522</text>
<text x="267.8" y="816.90" font-size="11" textLength="111.8" lengthAdjust="spacingAndGlyphs">ADP-ribosyltransferase</text>
</g>
</svg>
</body></html>
